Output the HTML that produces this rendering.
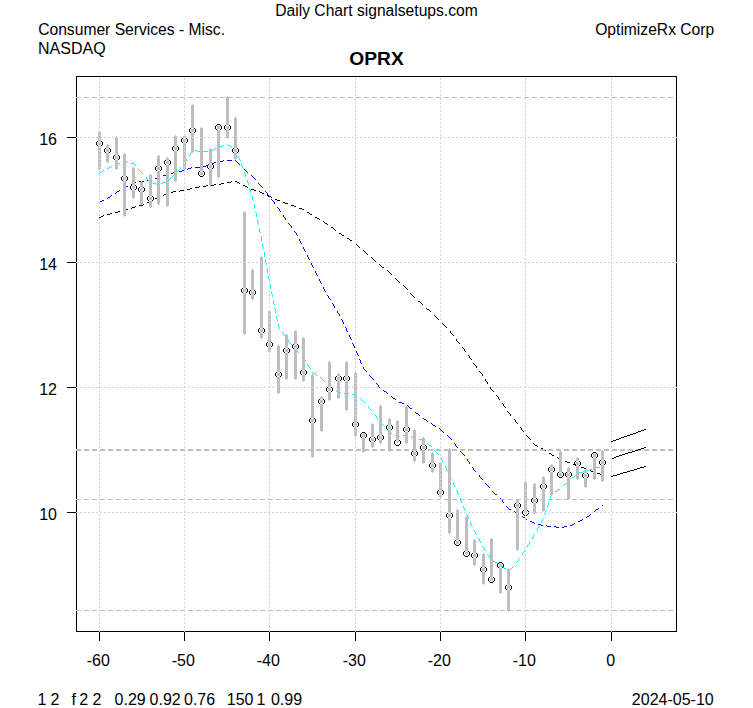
<!DOCTYPE html>
<html><head><meta charset="utf-8"><style>
html,body{margin:0;padding:0;background:#fff;width:753px;height:708px;overflow:hidden}
svg{display:block}
text{font-family:"Liberation Sans",sans-serif;fill:#000;white-space:pre}
</style></head><body>
<svg width="753" height="708" viewBox="0 0 753 708">
<g shape-rendering="crispEdges">
<rect x="0" y="0" width="753" height="708" fill="#fff"/>
<rect x="76.5" y="76.5" width="600" height="555" fill="none" stroke="#000" stroke-width="1"/>
<path d="M99 217h1v1h-1zM100 217h1v1h-1zM101 216h1v1h-1zM102 216h1v1h-1zM103 215h1v1h-1zM107 214h1v1h-1zM108 214h1v1h-1zM109 214h1v1h-1zM110 213h1v1h-1zM111 213h1v1h-1zM115 212h1v1h-1zM116 212h1v1h-1zM117 212h1v1h-1zM118 211h1v1h-1zM119 211h1v1h-1zM123 210h1v1h-1zM124 210h1v1h-1zM125 210h1v1h-1zM126 209h1v1h-1zM127 209h1v1h-1zM131 208h1v1h-1zM132 207h1v1h-1zM133 207h1v1h-1zM134 207h1v1h-1zM135 206h1v1h-1zM139 205h1v1h-1zM140 205h1v1h-1zM141 205h1v1h-1zM142 205h1v1h-1zM143 204h1v1h-1zM147 202h1v1h-1zM148 202h1v1h-1zM149 201h1v1h-1zM150 201h1v1h-1zM151 200h1v1h-1zM155 198h1v1h-1zM156 198h1v1h-1zM157 197h1v1h-1zM158 197h1v1h-1zM159 197h1v1h-1zM163 195h1v1h-1zM164 194h1v1h-1zM165 194h1v1h-1zM166 193h1v1h-1zM167 193h1v1h-1zM171 192h1v1h-1zM172 192h1v1h-1zM173 191h1v1h-1zM174 191h1v1h-1zM175 191h1v1h-1zM179 191h1v1h-1zM180 190h1v1h-1zM181 190h1v1h-1zM182 190h1v1h-1zM183 190h1v1h-1zM187 189h1v1h-1zM188 189h1v1h-1zM189 189h1v1h-1zM190 188h1v1h-1zM191 188h1v1h-1zM195 187h1v1h-1zM196 187h1v1h-1zM197 187h1v1h-1zM198 187h1v1h-1zM199 186h1v1h-1zM203 186h1v1h-1zM204 186h1v1h-1zM205 186h1v1h-1zM206 185h1v1h-1zM207 185h1v1h-1zM211 185h1v1h-1zM212 185h1v1h-1zM213 185h1v1h-1zM214 184h1v1h-1zM215 184h1v1h-1zM219 184h1v1h-1zM220 184h1v1h-1zM221 183h1v1h-1zM222 183h1v1h-1zM223 183h1v1h-1zM227 182h1v1h-1zM228 182h1v1h-1zM229 182h1v1h-1zM230 182h1v1h-1zM231 181h1v1h-1zM235 181h1v1h-1zM236 181h1v1h-1zM237 182h1v1h-1zM238 182h1v1h-1zM239 183h1v1h-1zM243 185h1v1h-1zM244 185h1v1h-1zM245 186h1v1h-1zM246 186h1v1h-1zM247 187h1v1h-1zM251 189h1v1h-1zM252 189h1v1h-1zM253 189h1v1h-1zM254 190h1v1h-1zM255 190h1v1h-1zM259 191h1v1h-1zM260 192h1v1h-1zM261 192h1v1h-1zM262 193h1v1h-1zM263 193h1v1h-1zM267 195h1v1h-1zM268 196h1v1h-1zM269 196h1v1h-1zM270 196h1v1h-1zM271 197h1v1h-1zM275 199h1v1h-1zM276 199h1v1h-1zM277 200h1v1h-1zM278 200h1v1h-1zM279 200h1v1h-1zM283 202h1v1h-1zM284 202h1v1h-1zM285 203h1v1h-1zM286 203h1v1h-1zM287 203h1v1h-1zM291 205h1v1h-1zM292 205h1v1h-1zM293 205h1v1h-1zM294 206h1v1h-1zM295 206h1v1h-1zM299 208h1v1h-1zM300 208h1v1h-1zM301 208h1v1h-1zM302 209h1v1h-1zM303 209h1v1h-1zM307 212h1v1h-1zM308 212h1v1h-1zM309 213h1v1h-1zM310 214h1v1h-1zM311 214h1v1h-1zM315 217h1v1h-1zM316 217h1v1h-1zM317 218h1v1h-1zM318 218h1v1h-1zM319 219h1v1h-1zM323 221h1v1h-1zM324 222h1v1h-1zM325 223h1v1h-1zM326 223h1v1h-1zM327 224h1v1h-1zM331 227h1v1h-1zM332 227h1v1h-1zM333 228h1v1h-1zM334 229h1v1h-1zM335 230h1v1h-1zM339 233h1v1h-1zM340 233h1v1h-1zM341 234h1v1h-1zM342 235h1v1h-1zM343 235h1v1h-1zM347 238h1v1h-1zM348 238h1v1h-1zM349 239h1v1h-1zM350 240h1v1h-1zM351 240h1v1h-1zM355 243h1v1h-1zM356 244h1v1h-1zM357 245h1v1h-1zM358 246h1v1h-1zM359 247h1v1h-1zM363 250h1v1h-1zM364 251h1v1h-1zM365 252h1v1h-1zM366 253h1v1h-1zM367 254h1v1h-1zM371 257h1v1h-1zM372 258h1v1h-1zM373 259h1v1h-1zM374 260h1v1h-1zM375 261h1v1h-1zM379 264h1v1h-1zM380 265h1v1h-1zM381 266h1v1h-1zM382 267h1v1h-1zM383 267h1v1h-1zM387 270h1v1h-1zM388 271h1v1h-1zM389 272h1v1h-1zM390 273h1v1h-1zM391 274h1v1h-1zM395 278h1v1h-1zM396 279h1v1h-1zM397 280h1v1h-1zM398 281h1v1h-1zM399 282h1v1h-1zM403 285h1v1h-1zM404 286h1v1h-1zM405 287h1v1h-1zM406 288h1v1h-1zM407 289h1v1h-1zM410 293h1v1h-1zM411 294h1v1h-1zM412 295h1v1h-1zM413 296h1v1h-1zM414 297h1v1h-1zM418 301h1v1h-1zM419 301h1v1h-1zM420 302h1v1h-1zM421 303h1v1h-1zM422 304h1v1h-1zM426 308h1v1h-1zM427 309h1v1h-1zM428 309h1v1h-1zM429 310h1v1h-1zM430 311h1v1h-1zM434 315h1v1h-1zM435 316h1v1h-1zM436 317h1v1h-1zM437 318h1v1h-1zM438 319h1v1h-1zM442 323h1v1h-1zM443 324h1v1h-1zM444 325h1v1h-1zM445 326h1v1h-1zM446 327h1v1h-1zM450 331h1v1h-1zM450 332h1v1h-1zM451 333h1v1h-1zM452 334h1v1h-1zM453 335h1v1h-1zM456 339h1v1h-1zM456 340h1v1h-1zM457 341h1v1h-1zM458 342h1v1h-1zM459 343h1v1h-1zM462 347h1v1h-1zM463 348h1v1h-1zM464 349h1v1h-1zM464 350h1v1h-1zM465 351h1v1h-1zM468 355h1v1h-1zM469 356h1v1h-1zM469 357h1v1h-1zM470 358h1v1h-1zM471 359h1v1h-1zM473 363h1v1h-1zM474 364h1v1h-1zM475 365h1v1h-1zM476 366h1v1h-1zM476 367h1v1h-1zM479 371h1v1h-1zM480 372h1v1h-1zM481 373h1v1h-1zM482 374h1v1h-1zM482 375h1v1h-1zM485 379h1v1h-1zM485 380h1v1h-1zM486 381h1v1h-1zM487 382h1v1h-1zM487 383h1v1h-1zM490 387h1v1h-1zM490 388h1v1h-1zM491 389h1v1h-1zM492 390h1v1h-1zM493 391h1v1h-1zM496 395h1v1h-1zM497 396h1v1h-1zM498 397h1v1h-1zM498 398h1v1h-1zM499 399h1v1h-1zM502 403h1v1h-1zM503 404h1v1h-1zM503 405h1v1h-1zM504 406h1v1h-1zM505 407h1v1h-1zM507 411h1v1h-1zM508 412h1v1h-1zM509 413h1v1h-1zM510 414h1v1h-1zM510 415h1v1h-1zM514 419h1v1h-1zM515 420h1v1h-1zM515 421h1v1h-1zM516 422h1v1h-1zM517 423h1v1h-1zM520 427h1v1h-1zM521 428h1v1h-1zM521 429h1v1h-1zM522 430h1v1h-1zM523 431h1v1h-1zM526 435h1v1h-1zM527 436h1v1h-1zM528 437h1v1h-1zM529 438h1v1h-1zM530 439h1v1h-1zM533 443h1v1h-1zM534 444h1v1h-1zM535 445h1v1h-1zM536 445h1v1h-1zM537 446h1v1h-1zM541 448h1v1h-1zM542 448h1v1h-1zM543 449h1v1h-1zM544 450h1v1h-1zM545 450h1v1h-1zM549 453h1v1h-1zM550 453h1v1h-1zM551 454h1v1h-1zM552 455h1v1h-1zM553 455h1v1h-1zM557 457h1v1h-1zM558 458h1v1h-1zM559 458h1v1h-1zM560 459h1v1h-1zM561 459h1v1h-1zM565 461h1v1h-1zM566 461h1v1h-1zM567 462h1v1h-1zM568 462h1v1h-1zM569 462h1v1h-1zM573 464h1v1h-1zM574 464h1v1h-1zM575 464h1v1h-1zM576 465h1v1h-1zM577 465h1v1h-1zM581 467h1v1h-1zM582 467h1v1h-1zM583 467h1v1h-1zM584 468h1v1h-1zM585 468h1v1h-1zM589 470h1v1h-1zM590 470h1v1h-1zM591 471h1v1h-1zM592 471h1v1h-1zM593 472h1v1h-1zM597 473h1v1h-1zM598 473h1v1h-1zM599 473h1v1h-1zM600 474h1v1h-1zM601 474h1v1h-1z" fill="#000"/>
<path d="M99 202h1v1h-1zM100 201h1v1h-1zM101 201h1v1h-1zM102 200h1v1h-1zM103 200h1v1h-1zM107 198h1v1h-1zM108 197h1v1h-1zM109 197h1v1h-1zM110 196h1v1h-1zM111 195h1v1h-1zM115 193h1v1h-1zM116 192h1v1h-1zM117 191h1v1h-1zM118 191h1v1h-1zM119 190h1v1h-1zM123 188h1v1h-1zM124 187h1v1h-1zM125 187h1v1h-1zM126 186h1v1h-1zM127 186h1v1h-1zM131 184h1v1h-1zM132 183h1v1h-1zM133 183h1v1h-1zM134 183h1v1h-1zM135 182h1v1h-1zM139 181h1v1h-1zM140 181h1v1h-1zM141 181h1v1h-1zM142 181h1v1h-1zM143 181h1v1h-1zM147 180h1v1h-1zM148 180h1v1h-1zM149 180h1v1h-1zM150 180h1v1h-1zM151 180h1v1h-1zM155 178h1v1h-1zM156 178h1v1h-1zM157 177h1v1h-1zM158 177h1v1h-1zM159 177h1v1h-1zM163 175h1v1h-1zM164 175h1v1h-1zM165 175h1v1h-1zM166 174h1v1h-1zM167 174h1v1h-1zM171 173h1v1h-1zM172 173h1v1h-1zM173 172h1v1h-1zM174 172h1v1h-1zM175 172h1v1h-1zM179 171h1v1h-1zM180 171h1v1h-1zM181 171h1v1h-1zM182 170h1v1h-1zM183 170h1v1h-1zM187 169h1v1h-1zM188 168h1v1h-1zM189 168h1v1h-1zM190 168h1v1h-1zM191 167h1v1h-1zM195 167h1v1h-1zM196 167h1v1h-1zM197 167h1v1h-1zM198 167h1v1h-1zM199 167h1v1h-1zM203 166h1v1h-1zM204 166h1v1h-1zM205 166h1v1h-1zM206 165h1v1h-1zM207 165h1v1h-1zM211 164h1v1h-1zM212 163h1v1h-1zM213 163h1v1h-1zM214 162h1v1h-1zM215 162h1v1h-1zM219 161h1v1h-1zM220 161h1v1h-1zM221 161h1v1h-1zM222 161h1v1h-1zM223 160h1v1h-1zM227 160h1v1h-1zM228 160h1v1h-1zM229 160h1v1h-1zM230 160h1v1h-1zM231 160h1v1h-1zM235 160h1v1h-1zM236 161h1v1h-1zM237 162h1v1h-1zM238 163h1v1h-1zM239 164h1v1h-1zM243 168h1v1h-1zM244 169h1v1h-1zM245 170h1v1h-1zM246 171h1v1h-1zM247 172h1v1h-1zM251 175h1v1h-1zM252 176h1v1h-1zM253 177h1v1h-1zM254 178h1v1h-1zM255 179h1v1h-1zM258 183h1v1h-1zM259 184h1v1h-1zM260 185h1v1h-1zM261 186h1v1h-1zM262 187h1v1h-1zM265 191h1v1h-1zM266 192h1v1h-1zM267 193h1v1h-1zM267 194h1v1h-1zM268 195h1v1h-1zM271 199h1v1h-1zM272 200h1v1h-1zM273 201h1v1h-1zM274 202h1v1h-1zM274 203h1v1h-1zM277 207h1v1h-1zM278 208h1v1h-1zM279 209h1v1h-1zM279 210h1v1h-1zM280 211h1v1h-1zM283 215h1v1h-1zM283 216h1v1h-1zM284 217h1v1h-1zM285 218h1v1h-1zM285 219h1v1h-1zM288 223h1v1h-1zM289 224h1v1h-1zM290 225h1v1h-1zM291 226h1v1h-1zM291 227h1v1h-1zM294 231h1v1h-1zM295 232h1v1h-1zM296 233h1v1h-1zM296 234h1v1h-1zM297 235h1v1h-1zM299 239h1v1h-1zM299 240h1v1h-1zM300 241h1v1h-1zM300 242h1v1h-1zM301 243h1v1h-1zM303 247h1v1h-1zM303 248h1v1h-1zM304 249h1v1h-1zM304 250h1v1h-1zM305 251h1v1h-1zM307 255h1v1h-1zM307 256h1v1h-1zM308 257h1v1h-1zM308 258h1v1h-1zM309 259h1v1h-1zM311 263h1v1h-1zM311 264h1v1h-1zM312 265h1v1h-1zM312 266h1v1h-1zM313 267h1v1h-1zM315 271h1v1h-1zM315 272h1v1h-1zM316 273h1v1h-1zM316 274h1v1h-1zM317 275h1v1h-1zM319 279h1v1h-1zM319 280h1v1h-1zM320 281h1v1h-1zM320 282h1v1h-1zM321 283h1v1h-1zM323 287h1v1h-1zM323 288h1v1h-1zM324 289h1v1h-1zM324 290h1v1h-1zM325 291h1v1h-1zM327 295h1v1h-1zM328 296h1v1h-1zM328 297h1v1h-1zM329 298h1v1h-1zM330 299h1v1h-1zM332 303h1v1h-1zM333 304h1v1h-1zM333 305h1v1h-1zM334 306h1v1h-1zM334 307h1v1h-1zM337 311h1v1h-1zM337 312h1v1h-1zM338 313h1v1h-1zM339 314h1v1h-1zM339 315h1v1h-1zM341 319h1v1h-1zM342 320h1v1h-1zM342 321h1v1h-1zM343 322h1v1h-1zM343 323h1v1h-1zM345 327h1v1h-1zM346 328h1v1h-1zM346 329h1v1h-1zM346 330h1v1h-1zM347 331h1v1h-1zM349 335h1v1h-1zM349 336h1v1h-1zM350 337h1v1h-1zM350 338h1v1h-1zM351 339h1v1h-1zM352 343h1v1h-1zM353 344h1v1h-1zM353 345h1v1h-1zM354 346h1v1h-1zM354 347h1v1h-1zM356 351h1v1h-1zM356 352h1v1h-1zM357 353h1v1h-1zM357 354h1v1h-1zM358 355h1v1h-1zM359 359h1v1h-1zM360 360h1v1h-1zM360 361h1v1h-1zM360 362h1v1h-1zM361 363h1v1h-1zM363 367h1v1h-1zM363 368h1v1h-1zM364 369h1v1h-1zM365 370h1v1h-1zM366 371h1v1h-1zM369 375h1v1h-1zM370 376h1v1h-1zM371 377h1v1h-1zM372 378h1v1h-1zM373 379h1v1h-1zM376 383h1v1h-1zM377 384h1v1h-1zM378 385h1v1h-1zM378 386h1v1h-1zM379 387h1v1h-1zM383 390h1v1h-1zM384 391h1v1h-1zM385 391h1v1h-1zM386 392h1v1h-1zM387 393h1v1h-1zM391 396h1v1h-1zM392 397h1v1h-1zM393 398h1v1h-1zM394 398h1v1h-1zM395 399h1v1h-1zM399 402h1v1h-1zM400 402h1v1h-1zM401 402h1v1h-1zM402 403h1v1h-1zM403 403h1v1h-1zM407 405h1v1h-1zM408 406h1v1h-1zM409 407h1v1h-1zM410 408h1v1h-1zM411 408h1v1h-1zM415 412h1v1h-1zM416 413h1v1h-1zM417 413h1v1h-1zM418 414h1v1h-1zM419 415h1v1h-1zM423 418h1v1h-1zM424 419h1v1h-1zM425 419h1v1h-1zM426 420h1v1h-1zM427 421h1v1h-1zM431 423h1v1h-1zM432 424h1v1h-1zM433 425h1v1h-1zM434 425h1v1h-1zM435 426h1v1h-1zM439 428h1v1h-1zM440 429h1v1h-1zM441 430h1v1h-1zM442 431h1v1h-1zM443 432h1v1h-1zM447 435h1v1h-1zM448 436h1v1h-1zM449 437h1v1h-1zM450 438h1v1h-1zM451 439h1v1h-1zM454 443h1v1h-1zM455 444h1v1h-1zM455 445h1v1h-1zM456 446h1v1h-1zM457 447h1v1h-1zM460 451h1v1h-1zM461 452h1v1h-1zM462 453h1v1h-1zM463 454h1v1h-1zM464 455h1v1h-1zM467 459h1v1h-1zM467 460h1v1h-1zM468 461h1v1h-1zM469 462h1v1h-1zM469 463h1v1h-1zM472 467h1v1h-1zM473 468h1v1h-1zM473 469h1v1h-1zM474 470h1v1h-1zM475 471h1v1h-1zM479 475h1v1h-1zM479 476h1v1h-1zM480 477h1v1h-1zM481 478h1v1h-1zM482 479h1v1h-1zM485 483h1v1h-1zM486 484h1v1h-1zM487 485h1v1h-1zM488 486h1v1h-1zM489 487h1v1h-1zM492 491h1v1h-1zM493 492h1v1h-1zM494 493h1v1h-1zM495 494h1v1h-1zM496 494h1v1h-1zM500 498h1v1h-1zM501 499h1v1h-1zM502 500h1v1h-1zM502 501h1v1h-1zM503 502h1v1h-1zM506 506h1v1h-1zM507 507h1v1h-1zM508 508h1v1h-1zM509 509h1v1h-1zM510 509h1v1h-1zM514 511h1v1h-1zM515 512h1v1h-1zM516 512h1v1h-1zM517 513h1v1h-1zM518 514h1v1h-1zM522 516h1v1h-1zM523 517h1v1h-1zM524 517h1v1h-1zM525 518h1v1h-1zM526 519h1v1h-1zM530 521h1v1h-1zM531 521h1v1h-1zM532 522h1v1h-1zM533 522h1v1h-1zM534 523h1v1h-1zM538 524h1v1h-1zM539 524h1v1h-1zM540 524h1v1h-1zM541 525h1v1h-1zM542 525h1v1h-1zM546 525h1v1h-1zM547 526h1v1h-1zM548 526h1v1h-1zM549 526h1v1h-1zM550 526h1v1h-1zM554 526h1v1h-1zM555 526h1v1h-1zM556 527h1v1h-1zM557 527h1v1h-1zM558 527h1v1h-1zM562 527h1v1h-1zM563 527h1v1h-1zM564 526h1v1h-1zM565 526h1v1h-1zM566 526h1v1h-1zM570 525h1v1h-1zM571 525h1v1h-1zM572 524h1v1h-1zM573 524h1v1h-1zM574 523h1v1h-1zM578 521h1v1h-1zM579 521h1v1h-1zM580 520h1v1h-1zM581 520h1v1h-1zM582 519h1v1h-1zM586 517h1v1h-1zM587 516h1v1h-1zM588 516h1v1h-1zM589 515h1v1h-1zM590 514h1v1h-1zM594 511h1v1h-1zM595 510h1v1h-1zM596 509h1v1h-1zM597 509h1v1h-1zM598 508h1v1h-1zM602 505h1v1h-1z" fill="#0000ff"/>
<path d="M99 173h1v1h-1zM100 172h1v1h-1zM101 172h1v1h-1zM102 171h1v1h-1zM103 170h1v1h-1zM107 168h1v1h-1zM108 168h1v1h-1zM109 167h1v1h-1zM110 167h1v1h-1zM111 166h1v1h-1zM115 164h1v1h-1zM116 164h1v1h-1zM117 164h1v1h-1zM118 163h1v1h-1zM119 163h1v1h-1zM123 161h1v1h-1zM124 161h1v1h-1zM125 161h1v1h-1zM126 161h1v1h-1zM127 162h1v1h-1zM131 163h1v1h-1zM132 163h1v1h-1zM133 163h1v1h-1zM134 164h1v1h-1zM135 165h1v1h-1zM138 169h1v1h-1zM139 170h1v1h-1zM140 171h1v1h-1zM141 172h1v1h-1zM142 173h1v1h-1zM146 177h1v1h-1zM146 178h1v1h-1zM147 179h1v1h-1zM148 180h1v1h-1zM149 181h1v1h-1zM153 183h1v1h-1zM154 183h1v1h-1zM155 183h1v1h-1zM156 184h1v1h-1zM157 184h1v1h-1zM161 183h1v1h-1zM162 183h1v1h-1zM163 182h1v1h-1zM164 182h1v1h-1zM165 182h1v1h-1zM169 179h1v1h-1zM170 178h1v1h-1zM171 177h1v1h-1zM172 176h1v1h-1zM173 175h1v1h-1zM177 171h1v1h-1zM178 170h1v1h-1zM179 169h1v1h-1zM180 168h1v1h-1zM180 167h1v1h-1zM184 163h1v1h-1zM185 162h1v1h-1zM185 161h1v1h-1zM186 160h1v1h-1zM186 159h1v1h-1zM189 155h1v1h-1zM190 154h1v1h-1zM190 153h1v1h-1zM191 152h1v1h-1zM191 151h1v1h-1zM195 150h1v1h-1zM196 150h1v1h-1zM197 151h1v1h-1zM198 151h1v1h-1zM199 151h1v1h-1zM203 151h1v1h-1zM204 151h1v1h-1zM205 151h1v1h-1zM206 151h1v1h-1zM207 151h1v1h-1zM211 150h1v1h-1zM212 150h1v1h-1zM213 149h1v1h-1zM214 149h1v1h-1zM215 148h1v1h-1zM219 147h1v1h-1zM220 146h1v1h-1zM221 146h1v1h-1zM222 146h1v1h-1zM223 145h1v1h-1zM227 144h1v1h-1zM228 145h1v1h-1zM229 145h1v1h-1zM230 146h1v1h-1zM231 146h1v1h-1zM235 148h1v1h-1zM235 149h1v1h-1zM236 150h1v1h-1zM236 151h1v1h-1zM237 152h1v1h-1zM238 156h1v1h-1zM238 157h1v1h-1zM239 158h1v1h-1zM239 159h1v1h-1zM240 160h1v1h-1zM241 164h1v1h-1zM241 165h1v1h-1zM242 166h1v1h-1zM242 167h1v1h-1zM243 168h1v1h-1zM244 172h1v1h-1zM244 173h1v1h-1zM245 174h1v1h-1zM245 175h1v1h-1zM245 176h1v1h-1zM247 180h1v1h-1zM247 181h1v1h-1zM247 182h1v1h-1zM248 183h1v1h-1zM248 184h1v1h-1zM249 188h1v1h-1zM249 189h1v1h-1zM250 190h1v1h-1zM250 191h1v1h-1zM250 192h1v1h-1zM252 196h1v1h-1zM252 197h1v1h-1zM252 198h1v1h-1zM252 199h1v1h-1zM253 200h1v1h-1zM254 204h1v1h-1zM254 205h1v1h-1zM254 206h1v1h-1zM254 207h1v1h-1zM254 208h1v1h-1zM255 212h1v1h-1zM256 213h1v1h-1zM256 214h1v1h-1zM256 215h1v1h-1zM256 216h1v1h-1zM257 220h1v1h-1zM257 221h1v1h-1zM257 222h1v1h-1zM258 223h1v1h-1zM258 224h1v1h-1zM259 228h1v1h-1zM259 229h1v1h-1zM259 230h1v1h-1zM259 231h1v1h-1zM260 232h1v1h-1zM261 236h1v1h-1zM261 237h1v1h-1zM261 238h1v1h-1zM261 239h1v1h-1zM261 240h1v1h-1zM262 244h1v1h-1zM262 245h1v1h-1zM262 246h1v1h-1zM263 247h1v1h-1zM263 248h1v1h-1zM264 252h1v1h-1zM264 253h1v1h-1zM264 254h1v1h-1zM264 255h1v1h-1zM264 256h1v1h-1zM265 260h1v1h-1zM265 261h1v1h-1zM265 262h1v1h-1zM266 263h1v1h-1zM266 264h1v1h-1zM267 268h1v1h-1zM267 269h1v1h-1zM267 270h1v1h-1zM267 271h1v1h-1zM267 272h1v1h-1zM268 276h1v1h-1zM268 277h1v1h-1zM268 278h1v1h-1zM269 279h1v1h-1zM269 280h1v1h-1zM270 284h1v1h-1zM270 285h1v1h-1zM270 286h1v1h-1zM270 287h1v1h-1zM270 288h1v1h-1zM271 292h1v1h-1zM271 293h1v1h-1zM272 294h1v1h-1zM272 295h1v1h-1zM272 296h1v1h-1zM273 300h1v1h-1zM273 301h1v1h-1zM273 302h1v1h-1zM273 303h1v1h-1zM274 304h1v1h-1zM274 308h1v1h-1zM275 309h1v1h-1zM275 310h1v1h-1zM275 311h1v1h-1zM275 312h1v1h-1zM276 316h1v1h-1zM276 317h1v1h-1zM276 318h1v1h-1zM277 319h1v1h-1zM277 320h1v1h-1zM278 324h1v1h-1zM278 325h1v1h-1zM278 326h1v1h-1zM279 327h1v1h-1zM279 328h1v1h-1zM282 332h1v1h-1zM283 333h1v1h-1zM283 334h1v1h-1zM284 335h1v1h-1zM285 336h1v1h-1zM288 340h1v1h-1zM288 341h1v1h-1zM289 342h1v1h-1zM290 343h1v1h-1zM291 344h1v1h-1zM294 348h1v1h-1zM295 349h1v1h-1zM296 350h1v1h-1zM297 351h1v1h-1zM298 352h1v1h-1zM302 356h1v1h-1zM303 357h1v1h-1zM304 358h1v1h-1zM304 359h1v1h-1zM305 360h1v1h-1zM307 364h1v1h-1zM308 365h1v1h-1zM308 366h1v1h-1zM309 367h1v1h-1zM310 368h1v1h-1zM312 372h1v1h-1zM313 373h1v1h-1zM314 373h1v1h-1zM315 374h1v1h-1zM316 375h1v1h-1zM320 377h1v1h-1zM321 378h1v1h-1zM322 379h1v1h-1zM323 380h1v1h-1zM324 381h1v1h-1zM328 385h1v1h-1zM329 386h1v1h-1zM330 387h1v1h-1zM331 387h1v1h-1zM332 388h1v1h-1zM336 391h1v1h-1zM337 391h1v1h-1zM338 392h1v1h-1zM339 392h1v1h-1zM340 392h1v1h-1zM344 393h1v1h-1zM345 393h1v1h-1zM346 393h1v1h-1zM347 393h1v1h-1zM348 393h1v1h-1zM352 394h1v1h-1zM353 394h1v1h-1zM354 394h1v1h-1zM355 394h1v1h-1zM356 395h1v1h-1zM360 398h1v1h-1zM361 399h1v1h-1zM362 400h1v1h-1zM363 401h1v1h-1zM364 402h1v1h-1zM368 406h1v1h-1zM368 407h1v1h-1zM369 408h1v1h-1zM370 409h1v1h-1zM371 410h1v1h-1zM374 414h1v1h-1zM375 415h1v1h-1zM376 416h1v1h-1zM376 417h1v1h-1zM377 418h1v1h-1zM380 422h1v1h-1zM381 423h1v1h-1zM382 424h1v1h-1zM383 425h1v1h-1zM384 426h1v1h-1zM387 430h1v1h-1zM388 431h1v1h-1zM389 432h1v1h-1zM390 433h1v1h-1zM391 433h1v1h-1zM395 435h1v1h-1zM396 436h1v1h-1zM397 436h1v1h-1zM398 436h1v1h-1zM399 436h1v1h-1zM403 435h1v1h-1zM404 435h1v1h-1zM405 435h1v1h-1zM406 435h1v1h-1zM407 435h1v1h-1zM411 436h1v1h-1zM412 437h1v1h-1zM413 437h1v1h-1zM414 437h1v1h-1zM415 437h1v1h-1zM419 439h1v1h-1zM420 439h1v1h-1zM421 439h1v1h-1zM422 440h1v1h-1zM423 440h1v1h-1zM427 443h1v1h-1zM428 444h1v1h-1zM429 445h1v1h-1zM430 445h1v1h-1zM431 446h1v1h-1zM434 450h1v1h-1zM435 451h1v1h-1zM436 452h1v1h-1zM437 453h1v1h-1zM438 454h1v1h-1zM441 458h1v1h-1zM441 459h1v1h-1zM442 460h1v1h-1zM442 461h1v1h-1zM443 462h1v1h-1zM445 466h1v1h-1zM445 467h1v1h-1zM446 468h1v1h-1zM446 469h1v1h-1zM447 470h1v1h-1zM449 474h1v1h-1zM449 475h1v1h-1zM450 476h1v1h-1zM450 477h1v1h-1zM451 478h1v1h-1zM453 482h1v1h-1zM453 483h1v1h-1zM453 484h1v1h-1zM454 485h1v1h-1zM454 486h1v1h-1zM456 490h1v1h-1zM457 491h1v1h-1zM457 492h1v1h-1zM457 493h1v1h-1zM458 494h1v1h-1zM460 498h1v1h-1zM460 499h1v1h-1zM460 500h1v1h-1zM461 501h1v1h-1zM461 502h1v1h-1zM463 506h1v1h-1zM463 507h1v1h-1zM464 508h1v1h-1zM464 509h1v1h-1zM465 510h1v1h-1zM466 514h1v1h-1zM467 515h1v1h-1zM467 516h1v1h-1zM468 517h1v1h-1zM468 518h1v1h-1zM470 522h1v1h-1zM470 523h1v1h-1zM471 524h1v1h-1zM471 525h1v1h-1zM472 526h1v1h-1zM474 530h1v1h-1zM474 531h1v1h-1zM475 532h1v1h-1zM475 533h1v1h-1zM476 534h1v1h-1zM478 538h1v1h-1zM479 539h1v1h-1zM479 540h1v1h-1zM480 541h1v1h-1zM480 542h1v1h-1zM482 546h1v1h-1zM483 547h1v1h-1zM484 548h1v1h-1zM484 549h1v1h-1zM485 550h1v1h-1zM487 554h1v1h-1zM488 555h1v1h-1zM489 556h1v1h-1zM489 557h1v1h-1zM490 558h1v1h-1zM493 561h1v1h-1zM494 561h1v1h-1zM495 562h1v1h-1zM496 562h1v1h-1zM497 563h1v1h-1zM501 565h1v1h-1zM502 566h1v1h-1zM503 567h1v1h-1zM504 568h1v1h-1zM505 568h1v1h-1zM509 570h1v1h-1zM510 569h1v1h-1zM511 568h1v1h-1zM512 567h1v1h-1zM513 566h1v1h-1zM516 562h1v1h-1zM517 561h1v1h-1zM518 560h1v1h-1zM518 559h1v1h-1zM519 558h1v1h-1zM522 554h1v1h-1zM522 553h1v1h-1zM523 552h1v1h-1zM524 551h1v1h-1zM524 550h1v1h-1zM527 546h1v1h-1zM527 545h1v1h-1zM528 544h1v1h-1zM529 543h1v1h-1zM529 542h1v1h-1zM532 538h1v1h-1zM532 537h1v1h-1zM533 536h1v1h-1zM533 535h1v1h-1zM534 534h1v1h-1zM536 530h1v1h-1zM537 529h1v1h-1zM537 528h1v1h-1zM538 527h1v1h-1zM539 526h1v1h-1zM541 522h1v1h-1zM541 521h1v1h-1zM542 520h1v1h-1zM542 519h1v1h-1zM543 518h1v1h-1zM544 514h1v1h-1zM545 513h1v1h-1zM545 512h1v1h-1zM545 511h1v1h-1zM546 510h1v1h-1zM547 506h1v1h-1zM547 505h1v1h-1zM548 504h1v1h-1zM548 503h1v1h-1zM548 502h1v1h-1zM550 498h1v1h-1zM550 497h1v1h-1zM550 496h1v1h-1zM551 495h1v1h-1zM551 494h1v1h-1zM555 491h1v1h-1zM556 491h1v1h-1zM557 490h1v1h-1zM558 489h1v1h-1zM559 489h1v1h-1zM563 485h1v1h-1zM564 484h1v1h-1zM565 484h1v1h-1zM566 483h1v1h-1zM567 482h1v1h-1zM571 478h1v1h-1zM572 477h1v1h-1zM573 477h1v1h-1zM574 476h1v1h-1zM575 475h1v1h-1zM579 472h1v1h-1zM580 472h1v1h-1zM581 472h1v1h-1zM582 472h1v1h-1zM583 471h1v1h-1zM587 470h1v1h-1zM588 470h1v1h-1zM589 470h1v1h-1zM590 469h1v1h-1zM591 469h1v1h-1zM595 468h1v1h-1zM596 467h1v1h-1zM597 467h1v1h-1zM598 467h1v1h-1zM599 467h1v1h-1z" fill="#00ffff"/>
<rect x="98" y="132" width="3" height="37" fill="#bebebe"/>
<rect x="99" y="131" width="1" height="39" fill="#bebebe"/>
<rect x="106" y="145" width="3" height="17" fill="#bebebe"/>
<rect x="107" y="144" width="1" height="19" fill="#bebebe"/>
<rect x="115" y="137" width="3" height="32" fill="#bebebe"/>
<rect x="116" y="136" width="1" height="34" fill="#bebebe"/>
<rect x="123" y="154" width="3" height="62" fill="#bebebe"/>
<rect x="124" y="153" width="1" height="64" fill="#bebebe"/>
<rect x="132" y="168" width="3" height="30" fill="#bebebe"/>
<rect x="133" y="167" width="1" height="32" fill="#bebebe"/>
<rect x="140" y="182" width="3" height="22" fill="#bebebe"/>
<rect x="141" y="181" width="1" height="24" fill="#bebebe"/>
<rect x="149" y="175" width="3" height="32" fill="#bebebe"/>
<rect x="150" y="174" width="1" height="34" fill="#bebebe"/>
<rect x="157" y="156" width="3" height="48" fill="#bebebe"/>
<rect x="158" y="155" width="1" height="50" fill="#bebebe"/>
<rect x="166" y="158" width="3" height="48" fill="#bebebe"/>
<rect x="167" y="157" width="1" height="50" fill="#bebebe"/>
<rect x="174" y="136" width="3" height="45" fill="#bebebe"/>
<rect x="175" y="135" width="1" height="47" fill="#bebebe"/>
<rect x="183" y="136" width="3" height="33" fill="#bebebe"/>
<rect x="184" y="135" width="1" height="35" fill="#bebebe"/>
<rect x="191" y="105" width="3" height="47" fill="#bebebe"/>
<rect x="192" y="104" width="1" height="49" fill="#bebebe"/>
<rect x="200" y="128" width="3" height="47" fill="#bebebe"/>
<rect x="201" y="127" width="1" height="49" fill="#bebebe"/>
<rect x="209" y="149" width="3" height="36" fill="#bebebe"/>
<rect x="210" y="148" width="1" height="38" fill="#bebebe"/>
<rect x="217" y="126" width="3" height="51" fill="#bebebe"/>
<rect x="218" y="125" width="1" height="53" fill="#bebebe"/>
<rect x="226" y="97" width="3" height="41" fill="#bebebe"/>
<rect x="227" y="96" width="1" height="43" fill="#bebebe"/>
<rect x="234" y="118" width="3" height="41" fill="#bebebe"/>
<rect x="235" y="117" width="1" height="43" fill="#bebebe"/>
<rect x="243" y="212" width="3" height="122" fill="#bebebe"/>
<rect x="244" y="211" width="1" height="124" fill="#bebebe"/>
<rect x="251" y="270" width="3" height="29" fill="#bebebe"/>
<rect x="252" y="269" width="1" height="31" fill="#bebebe"/>
<rect x="260" y="257" width="3" height="81" fill="#bebebe"/>
<rect x="261" y="256" width="1" height="83" fill="#bebebe"/>
<rect x="268" y="311" width="3" height="41" fill="#bebebe"/>
<rect x="269" y="310" width="1" height="43" fill="#bebebe"/>
<rect x="277" y="346" width="3" height="47" fill="#bebebe"/>
<rect x="278" y="345" width="1" height="49" fill="#bebebe"/>
<rect x="285" y="335" width="3" height="44" fill="#bebebe"/>
<rect x="286" y="334" width="1" height="46" fill="#bebebe"/>
<rect x="294" y="331" width="3" height="48" fill="#bebebe"/>
<rect x="295" y="330" width="1" height="50" fill="#bebebe"/>
<rect x="302" y="338" width="3" height="43" fill="#bebebe"/>
<rect x="303" y="337" width="1" height="45" fill="#bebebe"/>
<rect x="311" y="375" width="3" height="82" fill="#bebebe"/>
<rect x="312" y="374" width="1" height="84" fill="#bebebe"/>
<rect x="320" y="397" width="3" height="34" fill="#bebebe"/>
<rect x="321" y="396" width="1" height="36" fill="#bebebe"/>
<rect x="328" y="362" width="3" height="38" fill="#bebebe"/>
<rect x="329" y="361" width="1" height="40" fill="#bebebe"/>
<rect x="337" y="374" width="3" height="24" fill="#bebebe"/>
<rect x="338" y="373" width="1" height="26" fill="#bebebe"/>
<rect x="345" y="362" width="3" height="48" fill="#bebebe"/>
<rect x="346" y="361" width="1" height="50" fill="#bebebe"/>
<rect x="354" y="373" width="3" height="63" fill="#bebebe"/>
<rect x="355" y="372" width="1" height="65" fill="#bebebe"/>
<rect x="362" y="433" width="3" height="19" fill="#bebebe"/>
<rect x="363" y="432" width="1" height="21" fill="#bebebe"/>
<rect x="371" y="424" width="3" height="23" fill="#bebebe"/>
<rect x="372" y="423" width="1" height="25" fill="#bebebe"/>
<rect x="379" y="406" width="3" height="37" fill="#bebebe"/>
<rect x="380" y="405" width="1" height="39" fill="#bebebe"/>
<rect x="388" y="419" width="3" height="32" fill="#bebebe"/>
<rect x="389" y="418" width="1" height="34" fill="#bebebe"/>
<rect x="396" y="421" width="3" height="21" fill="#bebebe"/>
<rect x="397" y="420" width="1" height="23" fill="#bebebe"/>
<rect x="405" y="407" width="3" height="36" fill="#bebebe"/>
<rect x="406" y="406" width="1" height="38" fill="#bebebe"/>
<rect x="413" y="430" width="3" height="31" fill="#bebebe"/>
<rect x="414" y="429" width="1" height="33" fill="#bebebe"/>
<rect x="422" y="438" width="3" height="25" fill="#bebebe"/>
<rect x="423" y="437" width="1" height="27" fill="#bebebe"/>
<rect x="431" y="453" width="3" height="19" fill="#bebebe"/>
<rect x="432" y="452" width="1" height="21" fill="#bebebe"/>
<rect x="439" y="463" width="3" height="34" fill="#bebebe"/>
<rect x="440" y="462" width="1" height="36" fill="#bebebe"/>
<rect x="448" y="449" width="3" height="84" fill="#bebebe"/>
<rect x="449" y="448" width="1" height="86" fill="#bebebe"/>
<rect x="456" y="510" width="3" height="34" fill="#bebebe"/>
<rect x="457" y="509" width="1" height="36" fill="#bebebe"/>
<rect x="465" y="517" width="3" height="37" fill="#bebebe"/>
<rect x="466" y="516" width="1" height="39" fill="#bebebe"/>
<rect x="473" y="540" width="3" height="25" fill="#bebebe"/>
<rect x="474" y="539" width="1" height="27" fill="#bebebe"/>
<rect x="482" y="554" width="3" height="30" fill="#bebebe"/>
<rect x="483" y="553" width="1" height="32" fill="#bebebe"/>
<rect x="490" y="539" width="3" height="43" fill="#bebebe"/>
<rect x="491" y="538" width="1" height="45" fill="#bebebe"/>
<rect x="499" y="564" width="3" height="29" fill="#bebebe"/>
<rect x="500" y="563" width="1" height="31" fill="#bebebe"/>
<rect x="507" y="569" width="3" height="42" fill="#bebebe"/>
<rect x="508" y="568" width="1" height="44" fill="#bebebe"/>
<rect x="516" y="500" width="3" height="50" fill="#bebebe"/>
<rect x="517" y="499" width="1" height="52" fill="#bebebe"/>
<rect x="524" y="482" width="3" height="31" fill="#bebebe"/>
<rect x="525" y="481" width="1" height="33" fill="#bebebe"/>
<rect x="533" y="484" width="3" height="29" fill="#bebebe"/>
<rect x="534" y="483" width="1" height="31" fill="#bebebe"/>
<rect x="542" y="477" width="3" height="34" fill="#bebebe"/>
<rect x="543" y="476" width="1" height="36" fill="#bebebe"/>
<rect x="550" y="465" width="3" height="30" fill="#bebebe"/>
<rect x="551" y="464" width="1" height="32" fill="#bebebe"/>
<rect x="559" y="452" width="3" height="24" fill="#bebebe"/>
<rect x="560" y="451" width="1" height="26" fill="#bebebe"/>
<rect x="567" y="468" width="3" height="31" fill="#bebebe"/>
<rect x="568" y="467" width="1" height="33" fill="#bebebe"/>
<rect x="576" y="458" width="3" height="21" fill="#bebebe"/>
<rect x="577" y="457" width="1" height="23" fill="#bebebe"/>
<rect x="584" y="470" width="3" height="17" fill="#bebebe"/>
<rect x="585" y="469" width="1" height="19" fill="#bebebe"/>
<rect x="593" y="454" width="3" height="25" fill="#bebebe"/>
<rect x="594" y="453" width="1" height="27" fill="#bebebe"/>
<rect x="601" y="451" width="3" height="30" fill="#bebebe"/>
<rect x="602" y="450" width="1" height="32" fill="#bebebe"/>
<path d="M76 97.5 H676" stroke="#bebebe" stroke-width="1" stroke-dasharray="5 3" fill="none"/>
<path d="M76 450.0 H676" stroke="#bebebe" stroke-width="2" stroke-dasharray="5 3" fill="none"/>
<path d="M76 499.5 H676" stroke="#bebebe" stroke-width="1" stroke-dasharray="5 3" fill="none"/>
<path d="M76 610.5 H676" stroke="#bebebe" stroke-width="1" stroke-dasharray="5 3" fill="none"/>
<rect x="98" y="141" width="1" height="1" fill="#ececec"/>
<rect x="98" y="145" width="1" height="1" fill="#ececec"/>
<rect x="99" y="141" width="1" height="1" fill="#ececec"/>
<rect x="99" y="145" width="1" height="1" fill="#ececec"/>
<rect x="100" y="141" width="1" height="1" fill="#ececec"/>
<rect x="100" y="145" width="1" height="1" fill="#ececec"/>
<rect x="97" y="141" width="1" height="1" fill="#000"/>
<rect x="97" y="145" width="1" height="1" fill="#000"/>
<rect x="101" y="141" width="1" height="1" fill="#000"/>
<rect x="101" y="145" width="1" height="1" fill="#000"/>
<rect x="96" y="142" width="1" height="1" fill="#000"/>
<rect x="96" y="143" width="1" height="1" fill="#000"/>
<rect x="96" y="144" width="1" height="1" fill="#000"/>
<rect x="102" y="142" width="1" height="1" fill="#000"/>
<rect x="102" y="143" width="1" height="1" fill="#000"/>
<rect x="102" y="144" width="1" height="1" fill="#000"/>
<rect x="106" y="148" width="1" height="1" fill="#ececec"/>
<rect x="106" y="152" width="1" height="1" fill="#ececec"/>
<rect x="107" y="148" width="1" height="1" fill="#ececec"/>
<rect x="107" y="152" width="1" height="1" fill="#ececec"/>
<rect x="108" y="148" width="1" height="1" fill="#ececec"/>
<rect x="108" y="152" width="1" height="1" fill="#ececec"/>
<rect x="105" y="148" width="1" height="1" fill="#000"/>
<rect x="105" y="152" width="1" height="1" fill="#000"/>
<rect x="109" y="148" width="1" height="1" fill="#000"/>
<rect x="109" y="152" width="1" height="1" fill="#000"/>
<rect x="104" y="149" width="1" height="1" fill="#000"/>
<rect x="104" y="150" width="1" height="1" fill="#000"/>
<rect x="104" y="151" width="1" height="1" fill="#000"/>
<rect x="110" y="149" width="1" height="1" fill="#000"/>
<rect x="110" y="150" width="1" height="1" fill="#000"/>
<rect x="110" y="151" width="1" height="1" fill="#000"/>
<rect x="115" y="155" width="1" height="1" fill="#ececec"/>
<rect x="115" y="159" width="1" height="1" fill="#ececec"/>
<rect x="116" y="155" width="1" height="1" fill="#ececec"/>
<rect x="116" y="159" width="1" height="1" fill="#ececec"/>
<rect x="117" y="155" width="1" height="1" fill="#ececec"/>
<rect x="117" y="159" width="1" height="1" fill="#ececec"/>
<rect x="114" y="155" width="1" height="1" fill="#000"/>
<rect x="114" y="159" width="1" height="1" fill="#000"/>
<rect x="118" y="155" width="1" height="1" fill="#000"/>
<rect x="118" y="159" width="1" height="1" fill="#000"/>
<rect x="113" y="156" width="1" height="1" fill="#000"/>
<rect x="113" y="157" width="1" height="1" fill="#000"/>
<rect x="113" y="158" width="1" height="1" fill="#000"/>
<rect x="119" y="156" width="1" height="1" fill="#000"/>
<rect x="119" y="157" width="1" height="1" fill="#000"/>
<rect x="119" y="158" width="1" height="1" fill="#000"/>
<rect x="123" y="176" width="1" height="1" fill="#ececec"/>
<rect x="123" y="180" width="1" height="1" fill="#ececec"/>
<rect x="124" y="176" width="1" height="1" fill="#ececec"/>
<rect x="124" y="180" width="1" height="1" fill="#ececec"/>
<rect x="125" y="176" width="1" height="1" fill="#ececec"/>
<rect x="125" y="180" width="1" height="1" fill="#ececec"/>
<rect x="122" y="176" width="1" height="1" fill="#000"/>
<rect x="122" y="180" width="1" height="1" fill="#000"/>
<rect x="126" y="176" width="1" height="1" fill="#000"/>
<rect x="126" y="180" width="1" height="1" fill="#000"/>
<rect x="121" y="177" width="1" height="1" fill="#000"/>
<rect x="121" y="178" width="1" height="1" fill="#000"/>
<rect x="121" y="179" width="1" height="1" fill="#000"/>
<rect x="127" y="177" width="1" height="1" fill="#000"/>
<rect x="127" y="178" width="1" height="1" fill="#000"/>
<rect x="127" y="179" width="1" height="1" fill="#000"/>
<rect x="132" y="185" width="1" height="1" fill="#ececec"/>
<rect x="132" y="189" width="1" height="1" fill="#ececec"/>
<rect x="133" y="185" width="1" height="1" fill="#ececec"/>
<rect x="133" y="189" width="1" height="1" fill="#ececec"/>
<rect x="134" y="185" width="1" height="1" fill="#ececec"/>
<rect x="134" y="189" width="1" height="1" fill="#ececec"/>
<rect x="131" y="185" width="1" height="1" fill="#000"/>
<rect x="131" y="189" width="1" height="1" fill="#000"/>
<rect x="135" y="185" width="1" height="1" fill="#000"/>
<rect x="135" y="189" width="1" height="1" fill="#000"/>
<rect x="130" y="186" width="1" height="1" fill="#000"/>
<rect x="130" y="187" width="1" height="1" fill="#000"/>
<rect x="130" y="188" width="1" height="1" fill="#000"/>
<rect x="136" y="186" width="1" height="1" fill="#000"/>
<rect x="136" y="187" width="1" height="1" fill="#000"/>
<rect x="136" y="188" width="1" height="1" fill="#000"/>
<rect x="140" y="187" width="1" height="1" fill="#ececec"/>
<rect x="140" y="191" width="1" height="1" fill="#ececec"/>
<rect x="141" y="187" width="1" height="1" fill="#ececec"/>
<rect x="141" y="191" width="1" height="1" fill="#ececec"/>
<rect x="142" y="187" width="1" height="1" fill="#ececec"/>
<rect x="142" y="191" width="1" height="1" fill="#ececec"/>
<rect x="139" y="187" width="1" height="1" fill="#000"/>
<rect x="139" y="191" width="1" height="1" fill="#000"/>
<rect x="143" y="187" width="1" height="1" fill="#000"/>
<rect x="143" y="191" width="1" height="1" fill="#000"/>
<rect x="138" y="188" width="1" height="1" fill="#000"/>
<rect x="138" y="189" width="1" height="1" fill="#000"/>
<rect x="138" y="190" width="1" height="1" fill="#000"/>
<rect x="144" y="188" width="1" height="1" fill="#000"/>
<rect x="144" y="189" width="1" height="1" fill="#000"/>
<rect x="144" y="190" width="1" height="1" fill="#000"/>
<rect x="149" y="196" width="1" height="1" fill="#ececec"/>
<rect x="149" y="200" width="1" height="1" fill="#ececec"/>
<rect x="150" y="196" width="1" height="1" fill="#ececec"/>
<rect x="150" y="200" width="1" height="1" fill="#ececec"/>
<rect x="151" y="196" width="1" height="1" fill="#ececec"/>
<rect x="151" y="200" width="1" height="1" fill="#ececec"/>
<rect x="148" y="196" width="1" height="1" fill="#000"/>
<rect x="148" y="200" width="1" height="1" fill="#000"/>
<rect x="152" y="196" width="1" height="1" fill="#000"/>
<rect x="152" y="200" width="1" height="1" fill="#000"/>
<rect x="147" y="197" width="1" height="1" fill="#000"/>
<rect x="147" y="198" width="1" height="1" fill="#000"/>
<rect x="147" y="199" width="1" height="1" fill="#000"/>
<rect x="153" y="197" width="1" height="1" fill="#000"/>
<rect x="153" y="198" width="1" height="1" fill="#000"/>
<rect x="153" y="199" width="1" height="1" fill="#000"/>
<rect x="157" y="166" width="1" height="1" fill="#ececec"/>
<rect x="157" y="170" width="1" height="1" fill="#ececec"/>
<rect x="158" y="166" width="1" height="1" fill="#ececec"/>
<rect x="158" y="170" width="1" height="1" fill="#ececec"/>
<rect x="159" y="166" width="1" height="1" fill="#ececec"/>
<rect x="159" y="170" width="1" height="1" fill="#ececec"/>
<rect x="156" y="166" width="1" height="1" fill="#000"/>
<rect x="156" y="170" width="1" height="1" fill="#000"/>
<rect x="160" y="166" width="1" height="1" fill="#000"/>
<rect x="160" y="170" width="1" height="1" fill="#000"/>
<rect x="155" y="167" width="1" height="1" fill="#000"/>
<rect x="155" y="168" width="1" height="1" fill="#000"/>
<rect x="155" y="169" width="1" height="1" fill="#000"/>
<rect x="161" y="167" width="1" height="1" fill="#000"/>
<rect x="161" y="168" width="1" height="1" fill="#000"/>
<rect x="161" y="169" width="1" height="1" fill="#000"/>
<rect x="166" y="160" width="1" height="1" fill="#ececec"/>
<rect x="166" y="164" width="1" height="1" fill="#ececec"/>
<rect x="167" y="160" width="1" height="1" fill="#ececec"/>
<rect x="167" y="164" width="1" height="1" fill="#ececec"/>
<rect x="168" y="160" width="1" height="1" fill="#ececec"/>
<rect x="168" y="164" width="1" height="1" fill="#ececec"/>
<rect x="165" y="160" width="1" height="1" fill="#000"/>
<rect x="165" y="164" width="1" height="1" fill="#000"/>
<rect x="169" y="160" width="1" height="1" fill="#000"/>
<rect x="169" y="164" width="1" height="1" fill="#000"/>
<rect x="164" y="161" width="1" height="1" fill="#000"/>
<rect x="164" y="162" width="1" height="1" fill="#000"/>
<rect x="164" y="163" width="1" height="1" fill="#000"/>
<rect x="170" y="161" width="1" height="1" fill="#000"/>
<rect x="170" y="162" width="1" height="1" fill="#000"/>
<rect x="170" y="163" width="1" height="1" fill="#000"/>
<rect x="174" y="146" width="1" height="1" fill="#ececec"/>
<rect x="174" y="150" width="1" height="1" fill="#ececec"/>
<rect x="175" y="146" width="1" height="1" fill="#ececec"/>
<rect x="175" y="150" width="1" height="1" fill="#ececec"/>
<rect x="176" y="146" width="1" height="1" fill="#ececec"/>
<rect x="176" y="150" width="1" height="1" fill="#ececec"/>
<rect x="173" y="146" width="1" height="1" fill="#000"/>
<rect x="173" y="150" width="1" height="1" fill="#000"/>
<rect x="177" y="146" width="1" height="1" fill="#000"/>
<rect x="177" y="150" width="1" height="1" fill="#000"/>
<rect x="172" y="147" width="1" height="1" fill="#000"/>
<rect x="172" y="148" width="1" height="1" fill="#000"/>
<rect x="172" y="149" width="1" height="1" fill="#000"/>
<rect x="178" y="147" width="1" height="1" fill="#000"/>
<rect x="178" y="148" width="1" height="1" fill="#000"/>
<rect x="178" y="149" width="1" height="1" fill="#000"/>
<rect x="183" y="138" width="1" height="1" fill="#ececec"/>
<rect x="183" y="142" width="1" height="1" fill="#ececec"/>
<rect x="184" y="138" width="1" height="1" fill="#ececec"/>
<rect x="184" y="142" width="1" height="1" fill="#ececec"/>
<rect x="185" y="138" width="1" height="1" fill="#ececec"/>
<rect x="185" y="142" width="1" height="1" fill="#ececec"/>
<rect x="182" y="138" width="1" height="1" fill="#000"/>
<rect x="182" y="142" width="1" height="1" fill="#000"/>
<rect x="186" y="138" width="1" height="1" fill="#000"/>
<rect x="186" y="142" width="1" height="1" fill="#000"/>
<rect x="181" y="139" width="1" height="1" fill="#000"/>
<rect x="181" y="140" width="1" height="1" fill="#000"/>
<rect x="181" y="141" width="1" height="1" fill="#000"/>
<rect x="187" y="139" width="1" height="1" fill="#000"/>
<rect x="187" y="140" width="1" height="1" fill="#000"/>
<rect x="187" y="141" width="1" height="1" fill="#000"/>
<rect x="191" y="128" width="1" height="1" fill="#ececec"/>
<rect x="191" y="132" width="1" height="1" fill="#ececec"/>
<rect x="192" y="128" width="1" height="1" fill="#ececec"/>
<rect x="192" y="132" width="1" height="1" fill="#ececec"/>
<rect x="193" y="128" width="1" height="1" fill="#ececec"/>
<rect x="193" y="132" width="1" height="1" fill="#ececec"/>
<rect x="190" y="128" width="1" height="1" fill="#000"/>
<rect x="190" y="132" width="1" height="1" fill="#000"/>
<rect x="194" y="128" width="1" height="1" fill="#000"/>
<rect x="194" y="132" width="1" height="1" fill="#000"/>
<rect x="189" y="129" width="1" height="1" fill="#000"/>
<rect x="189" y="130" width="1" height="1" fill="#000"/>
<rect x="189" y="131" width="1" height="1" fill="#000"/>
<rect x="195" y="129" width="1" height="1" fill="#000"/>
<rect x="195" y="130" width="1" height="1" fill="#000"/>
<rect x="195" y="131" width="1" height="1" fill="#000"/>
<rect x="200" y="176" width="1" height="1" fill="#000"/>
<rect x="200" y="171" width="1" height="1" fill="#ececec"/>
<rect x="200" y="175" width="1" height="1" fill="#ececec"/>
<rect x="201" y="176" width="1" height="1" fill="#000"/>
<rect x="201" y="171" width="1" height="1" fill="#ececec"/>
<rect x="201" y="175" width="1" height="1" fill="#ececec"/>
<rect x="202" y="176" width="1" height="1" fill="#000"/>
<rect x="202" y="171" width="1" height="1" fill="#ececec"/>
<rect x="202" y="175" width="1" height="1" fill="#ececec"/>
<rect x="199" y="171" width="1" height="1" fill="#000"/>
<rect x="199" y="175" width="1" height="1" fill="#000"/>
<rect x="203" y="171" width="1" height="1" fill="#000"/>
<rect x="203" y="175" width="1" height="1" fill="#000"/>
<rect x="198" y="172" width="1" height="1" fill="#000"/>
<rect x="198" y="173" width="1" height="1" fill="#000"/>
<rect x="198" y="174" width="1" height="1" fill="#000"/>
<rect x="204" y="172" width="1" height="1" fill="#000"/>
<rect x="204" y="173" width="1" height="1" fill="#000"/>
<rect x="204" y="174" width="1" height="1" fill="#000"/>
<rect x="209" y="164" width="1" height="1" fill="#ececec"/>
<rect x="209" y="168" width="1" height="1" fill="#ececec"/>
<rect x="210" y="164" width="1" height="1" fill="#ececec"/>
<rect x="210" y="168" width="1" height="1" fill="#ececec"/>
<rect x="211" y="164" width="1" height="1" fill="#ececec"/>
<rect x="211" y="168" width="1" height="1" fill="#ececec"/>
<rect x="208" y="164" width="1" height="1" fill="#000"/>
<rect x="208" y="168" width="1" height="1" fill="#000"/>
<rect x="212" y="164" width="1" height="1" fill="#000"/>
<rect x="212" y="168" width="1" height="1" fill="#000"/>
<rect x="207" y="165" width="1" height="1" fill="#000"/>
<rect x="207" y="166" width="1" height="1" fill="#000"/>
<rect x="207" y="167" width="1" height="1" fill="#000"/>
<rect x="213" y="165" width="1" height="1" fill="#000"/>
<rect x="213" y="166" width="1" height="1" fill="#000"/>
<rect x="213" y="167" width="1" height="1" fill="#000"/>
<rect x="217" y="124" width="1" height="1" fill="#000"/>
<rect x="217" y="125" width="1" height="1" fill="#ececec"/>
<rect x="217" y="129" width="1" height="1" fill="#ececec"/>
<rect x="218" y="124" width="1" height="1" fill="#000"/>
<rect x="218" y="125" width="1" height="1" fill="#ececec"/>
<rect x="218" y="129" width="1" height="1" fill="#ececec"/>
<rect x="219" y="124" width="1" height="1" fill="#000"/>
<rect x="219" y="125" width="1" height="1" fill="#ececec"/>
<rect x="219" y="129" width="1" height="1" fill="#ececec"/>
<rect x="216" y="125" width="1" height="1" fill="#000"/>
<rect x="216" y="129" width="1" height="1" fill="#000"/>
<rect x="220" y="125" width="1" height="1" fill="#000"/>
<rect x="220" y="129" width="1" height="1" fill="#000"/>
<rect x="215" y="126" width="1" height="1" fill="#000"/>
<rect x="215" y="127" width="1" height="1" fill="#000"/>
<rect x="215" y="128" width="1" height="1" fill="#000"/>
<rect x="221" y="126" width="1" height="1" fill="#000"/>
<rect x="221" y="127" width="1" height="1" fill="#000"/>
<rect x="221" y="128" width="1" height="1" fill="#000"/>
<rect x="226" y="125" width="1" height="1" fill="#ececec"/>
<rect x="226" y="129" width="1" height="1" fill="#ececec"/>
<rect x="227" y="125" width="1" height="1" fill="#ececec"/>
<rect x="227" y="129" width="1" height="1" fill="#ececec"/>
<rect x="228" y="125" width="1" height="1" fill="#ececec"/>
<rect x="228" y="129" width="1" height="1" fill="#ececec"/>
<rect x="225" y="125" width="1" height="1" fill="#000"/>
<rect x="225" y="129" width="1" height="1" fill="#000"/>
<rect x="229" y="125" width="1" height="1" fill="#000"/>
<rect x="229" y="129" width="1" height="1" fill="#000"/>
<rect x="224" y="126" width="1" height="1" fill="#000"/>
<rect x="224" y="127" width="1" height="1" fill="#000"/>
<rect x="224" y="128" width="1" height="1" fill="#000"/>
<rect x="230" y="126" width="1" height="1" fill="#000"/>
<rect x="230" y="127" width="1" height="1" fill="#000"/>
<rect x="230" y="128" width="1" height="1" fill="#000"/>
<rect x="234" y="148" width="1" height="1" fill="#ececec"/>
<rect x="234" y="152" width="1" height="1" fill="#ececec"/>
<rect x="235" y="148" width="1" height="1" fill="#ececec"/>
<rect x="235" y="152" width="1" height="1" fill="#ececec"/>
<rect x="236" y="148" width="1" height="1" fill="#ececec"/>
<rect x="236" y="152" width="1" height="1" fill="#ececec"/>
<rect x="233" y="148" width="1" height="1" fill="#000"/>
<rect x="233" y="152" width="1" height="1" fill="#000"/>
<rect x="237" y="148" width="1" height="1" fill="#000"/>
<rect x="237" y="152" width="1" height="1" fill="#000"/>
<rect x="232" y="149" width="1" height="1" fill="#000"/>
<rect x="232" y="150" width="1" height="1" fill="#000"/>
<rect x="232" y="151" width="1" height="1" fill="#000"/>
<rect x="238" y="149" width="1" height="1" fill="#000"/>
<rect x="238" y="150" width="1" height="1" fill="#000"/>
<rect x="238" y="151" width="1" height="1" fill="#000"/>
<rect x="243" y="288" width="1" height="1" fill="#ececec"/>
<rect x="243" y="292" width="1" height="1" fill="#ececec"/>
<rect x="244" y="288" width="1" height="1" fill="#ececec"/>
<rect x="244" y="292" width="1" height="1" fill="#ececec"/>
<rect x="245" y="288" width="1" height="1" fill="#ececec"/>
<rect x="245" y="292" width="1" height="1" fill="#ececec"/>
<rect x="242" y="288" width="1" height="1" fill="#000"/>
<rect x="242" y="292" width="1" height="1" fill="#000"/>
<rect x="246" y="288" width="1" height="1" fill="#000"/>
<rect x="246" y="292" width="1" height="1" fill="#000"/>
<rect x="241" y="289" width="1" height="1" fill="#000"/>
<rect x="241" y="290" width="1" height="1" fill="#000"/>
<rect x="241" y="291" width="1" height="1" fill="#000"/>
<rect x="247" y="289" width="1" height="1" fill="#000"/>
<rect x="247" y="290" width="1" height="1" fill="#000"/>
<rect x="247" y="291" width="1" height="1" fill="#000"/>
<rect x="251" y="290" width="1" height="1" fill="#ececec"/>
<rect x="251" y="294" width="1" height="1" fill="#ececec"/>
<rect x="252" y="290" width="1" height="1" fill="#ececec"/>
<rect x="252" y="294" width="1" height="1" fill="#ececec"/>
<rect x="253" y="290" width="1" height="1" fill="#ececec"/>
<rect x="253" y="294" width="1" height="1" fill="#ececec"/>
<rect x="250" y="290" width="1" height="1" fill="#000"/>
<rect x="250" y="294" width="1" height="1" fill="#000"/>
<rect x="254" y="290" width="1" height="1" fill="#000"/>
<rect x="254" y="294" width="1" height="1" fill="#000"/>
<rect x="249" y="291" width="1" height="1" fill="#000"/>
<rect x="249" y="292" width="1" height="1" fill="#000"/>
<rect x="249" y="293" width="1" height="1" fill="#000"/>
<rect x="255" y="291" width="1" height="1" fill="#000"/>
<rect x="255" y="292" width="1" height="1" fill="#000"/>
<rect x="255" y="293" width="1" height="1" fill="#000"/>
<rect x="260" y="328" width="1" height="1" fill="#ececec"/>
<rect x="260" y="332" width="1" height="1" fill="#ececec"/>
<rect x="261" y="328" width="1" height="1" fill="#ececec"/>
<rect x="261" y="332" width="1" height="1" fill="#ececec"/>
<rect x="262" y="328" width="1" height="1" fill="#ececec"/>
<rect x="262" y="332" width="1" height="1" fill="#ececec"/>
<rect x="259" y="328" width="1" height="1" fill="#000"/>
<rect x="259" y="332" width="1" height="1" fill="#000"/>
<rect x="263" y="328" width="1" height="1" fill="#000"/>
<rect x="263" y="332" width="1" height="1" fill="#000"/>
<rect x="258" y="329" width="1" height="1" fill="#000"/>
<rect x="258" y="330" width="1" height="1" fill="#000"/>
<rect x="258" y="331" width="1" height="1" fill="#000"/>
<rect x="264" y="329" width="1" height="1" fill="#000"/>
<rect x="264" y="330" width="1" height="1" fill="#000"/>
<rect x="264" y="331" width="1" height="1" fill="#000"/>
<rect x="268" y="342" width="1" height="1" fill="#ececec"/>
<rect x="268" y="346" width="1" height="1" fill="#ececec"/>
<rect x="269" y="342" width="1" height="1" fill="#ececec"/>
<rect x="269" y="346" width="1" height="1" fill="#ececec"/>
<rect x="270" y="342" width="1" height="1" fill="#ececec"/>
<rect x="270" y="346" width="1" height="1" fill="#ececec"/>
<rect x="267" y="342" width="1" height="1" fill="#000"/>
<rect x="267" y="346" width="1" height="1" fill="#000"/>
<rect x="271" y="342" width="1" height="1" fill="#000"/>
<rect x="271" y="346" width="1" height="1" fill="#000"/>
<rect x="266" y="343" width="1" height="1" fill="#000"/>
<rect x="266" y="344" width="1" height="1" fill="#000"/>
<rect x="266" y="345" width="1" height="1" fill="#000"/>
<rect x="272" y="343" width="1" height="1" fill="#000"/>
<rect x="272" y="344" width="1" height="1" fill="#000"/>
<rect x="272" y="345" width="1" height="1" fill="#000"/>
<rect x="277" y="372" width="1" height="1" fill="#ececec"/>
<rect x="277" y="376" width="1" height="1" fill="#ececec"/>
<rect x="278" y="372" width="1" height="1" fill="#ececec"/>
<rect x="278" y="376" width="1" height="1" fill="#ececec"/>
<rect x="279" y="372" width="1" height="1" fill="#ececec"/>
<rect x="279" y="376" width="1" height="1" fill="#ececec"/>
<rect x="276" y="372" width="1" height="1" fill="#000"/>
<rect x="276" y="376" width="1" height="1" fill="#000"/>
<rect x="280" y="372" width="1" height="1" fill="#000"/>
<rect x="280" y="376" width="1" height="1" fill="#000"/>
<rect x="275" y="373" width="1" height="1" fill="#000"/>
<rect x="275" y="374" width="1" height="1" fill="#000"/>
<rect x="275" y="375" width="1" height="1" fill="#000"/>
<rect x="281" y="373" width="1" height="1" fill="#000"/>
<rect x="281" y="374" width="1" height="1" fill="#000"/>
<rect x="281" y="375" width="1" height="1" fill="#000"/>
<rect x="285" y="348" width="1" height="1" fill="#ececec"/>
<rect x="285" y="352" width="1" height="1" fill="#ececec"/>
<rect x="286" y="348" width="1" height="1" fill="#ececec"/>
<rect x="286" y="352" width="1" height="1" fill="#ececec"/>
<rect x="287" y="348" width="1" height="1" fill="#ececec"/>
<rect x="287" y="352" width="1" height="1" fill="#ececec"/>
<rect x="284" y="348" width="1" height="1" fill="#000"/>
<rect x="284" y="352" width="1" height="1" fill="#000"/>
<rect x="288" y="348" width="1" height="1" fill="#000"/>
<rect x="288" y="352" width="1" height="1" fill="#000"/>
<rect x="283" y="349" width="1" height="1" fill="#000"/>
<rect x="283" y="350" width="1" height="1" fill="#000"/>
<rect x="283" y="351" width="1" height="1" fill="#000"/>
<rect x="289" y="349" width="1" height="1" fill="#000"/>
<rect x="289" y="350" width="1" height="1" fill="#000"/>
<rect x="289" y="351" width="1" height="1" fill="#000"/>
<rect x="294" y="344" width="1" height="1" fill="#ececec"/>
<rect x="294" y="348" width="1" height="1" fill="#ececec"/>
<rect x="295" y="344" width="1" height="1" fill="#ececec"/>
<rect x="295" y="348" width="1" height="1" fill="#ececec"/>
<rect x="296" y="344" width="1" height="1" fill="#ececec"/>
<rect x="296" y="348" width="1" height="1" fill="#ececec"/>
<rect x="293" y="344" width="1" height="1" fill="#000"/>
<rect x="293" y="348" width="1" height="1" fill="#000"/>
<rect x="297" y="344" width="1" height="1" fill="#000"/>
<rect x="297" y="348" width="1" height="1" fill="#000"/>
<rect x="292" y="345" width="1" height="1" fill="#000"/>
<rect x="292" y="346" width="1" height="1" fill="#000"/>
<rect x="292" y="347" width="1" height="1" fill="#000"/>
<rect x="298" y="345" width="1" height="1" fill="#000"/>
<rect x="298" y="346" width="1" height="1" fill="#000"/>
<rect x="298" y="347" width="1" height="1" fill="#000"/>
<rect x="302" y="370" width="1" height="1" fill="#ececec"/>
<rect x="302" y="374" width="1" height="1" fill="#ececec"/>
<rect x="303" y="370" width="1" height="1" fill="#ececec"/>
<rect x="303" y="374" width="1" height="1" fill="#ececec"/>
<rect x="304" y="370" width="1" height="1" fill="#ececec"/>
<rect x="304" y="374" width="1" height="1" fill="#ececec"/>
<rect x="301" y="370" width="1" height="1" fill="#000"/>
<rect x="301" y="374" width="1" height="1" fill="#000"/>
<rect x="305" y="370" width="1" height="1" fill="#000"/>
<rect x="305" y="374" width="1" height="1" fill="#000"/>
<rect x="300" y="371" width="1" height="1" fill="#000"/>
<rect x="300" y="372" width="1" height="1" fill="#000"/>
<rect x="300" y="373" width="1" height="1" fill="#000"/>
<rect x="306" y="371" width="1" height="1" fill="#000"/>
<rect x="306" y="372" width="1" height="1" fill="#000"/>
<rect x="306" y="373" width="1" height="1" fill="#000"/>
<rect x="311" y="418" width="1" height="1" fill="#ececec"/>
<rect x="311" y="422" width="1" height="1" fill="#ececec"/>
<rect x="312" y="418" width="1" height="1" fill="#ececec"/>
<rect x="312" y="422" width="1" height="1" fill="#ececec"/>
<rect x="313" y="418" width="1" height="1" fill="#ececec"/>
<rect x="313" y="422" width="1" height="1" fill="#ececec"/>
<rect x="310" y="418" width="1" height="1" fill="#000"/>
<rect x="310" y="422" width="1" height="1" fill="#000"/>
<rect x="314" y="418" width="1" height="1" fill="#000"/>
<rect x="314" y="422" width="1" height="1" fill="#000"/>
<rect x="309" y="419" width="1" height="1" fill="#000"/>
<rect x="309" y="420" width="1" height="1" fill="#000"/>
<rect x="309" y="421" width="1" height="1" fill="#000"/>
<rect x="315" y="419" width="1" height="1" fill="#000"/>
<rect x="315" y="420" width="1" height="1" fill="#000"/>
<rect x="315" y="421" width="1" height="1" fill="#000"/>
<rect x="320" y="399" width="1" height="1" fill="#ececec"/>
<rect x="320" y="403" width="1" height="1" fill="#ececec"/>
<rect x="321" y="399" width="1" height="1" fill="#ececec"/>
<rect x="321" y="403" width="1" height="1" fill="#ececec"/>
<rect x="322" y="399" width="1" height="1" fill="#ececec"/>
<rect x="322" y="403" width="1" height="1" fill="#ececec"/>
<rect x="319" y="399" width="1" height="1" fill="#000"/>
<rect x="319" y="403" width="1" height="1" fill="#000"/>
<rect x="323" y="399" width="1" height="1" fill="#000"/>
<rect x="323" y="403" width="1" height="1" fill="#000"/>
<rect x="318" y="400" width="1" height="1" fill="#000"/>
<rect x="318" y="401" width="1" height="1" fill="#000"/>
<rect x="318" y="402" width="1" height="1" fill="#000"/>
<rect x="324" y="400" width="1" height="1" fill="#000"/>
<rect x="324" y="401" width="1" height="1" fill="#000"/>
<rect x="324" y="402" width="1" height="1" fill="#000"/>
<rect x="328" y="387" width="1" height="1" fill="#ececec"/>
<rect x="328" y="391" width="1" height="1" fill="#ececec"/>
<rect x="329" y="387" width="1" height="1" fill="#ececec"/>
<rect x="329" y="391" width="1" height="1" fill="#ececec"/>
<rect x="330" y="387" width="1" height="1" fill="#ececec"/>
<rect x="330" y="391" width="1" height="1" fill="#ececec"/>
<rect x="327" y="387" width="1" height="1" fill="#000"/>
<rect x="327" y="391" width="1" height="1" fill="#000"/>
<rect x="331" y="387" width="1" height="1" fill="#000"/>
<rect x="331" y="391" width="1" height="1" fill="#000"/>
<rect x="326" y="388" width="1" height="1" fill="#000"/>
<rect x="326" y="389" width="1" height="1" fill="#000"/>
<rect x="326" y="390" width="1" height="1" fill="#000"/>
<rect x="332" y="388" width="1" height="1" fill="#000"/>
<rect x="332" y="389" width="1" height="1" fill="#000"/>
<rect x="332" y="390" width="1" height="1" fill="#000"/>
<rect x="337" y="376" width="1" height="1" fill="#ececec"/>
<rect x="337" y="380" width="1" height="1" fill="#ececec"/>
<rect x="338" y="376" width="1" height="1" fill="#ececec"/>
<rect x="338" y="380" width="1" height="1" fill="#ececec"/>
<rect x="339" y="376" width="1" height="1" fill="#ececec"/>
<rect x="339" y="380" width="1" height="1" fill="#ececec"/>
<rect x="336" y="376" width="1" height="1" fill="#000"/>
<rect x="336" y="380" width="1" height="1" fill="#000"/>
<rect x="340" y="376" width="1" height="1" fill="#000"/>
<rect x="340" y="380" width="1" height="1" fill="#000"/>
<rect x="335" y="377" width="1" height="1" fill="#000"/>
<rect x="335" y="378" width="1" height="1" fill="#000"/>
<rect x="335" y="379" width="1" height="1" fill="#000"/>
<rect x="341" y="377" width="1" height="1" fill="#000"/>
<rect x="341" y="378" width="1" height="1" fill="#000"/>
<rect x="341" y="379" width="1" height="1" fill="#000"/>
<rect x="345" y="376" width="1" height="1" fill="#ececec"/>
<rect x="345" y="380" width="1" height="1" fill="#ececec"/>
<rect x="346" y="376" width="1" height="1" fill="#ececec"/>
<rect x="346" y="380" width="1" height="1" fill="#ececec"/>
<rect x="347" y="376" width="1" height="1" fill="#ececec"/>
<rect x="347" y="380" width="1" height="1" fill="#ececec"/>
<rect x="344" y="376" width="1" height="1" fill="#000"/>
<rect x="344" y="380" width="1" height="1" fill="#000"/>
<rect x="348" y="376" width="1" height="1" fill="#000"/>
<rect x="348" y="380" width="1" height="1" fill="#000"/>
<rect x="343" y="377" width="1" height="1" fill="#000"/>
<rect x="343" y="378" width="1" height="1" fill="#000"/>
<rect x="343" y="379" width="1" height="1" fill="#000"/>
<rect x="349" y="377" width="1" height="1" fill="#000"/>
<rect x="349" y="378" width="1" height="1" fill="#000"/>
<rect x="349" y="379" width="1" height="1" fill="#000"/>
<rect x="354" y="422" width="1" height="1" fill="#ececec"/>
<rect x="354" y="426" width="1" height="1" fill="#ececec"/>
<rect x="355" y="422" width="1" height="1" fill="#ececec"/>
<rect x="355" y="426" width="1" height="1" fill="#ececec"/>
<rect x="356" y="422" width="1" height="1" fill="#ececec"/>
<rect x="356" y="426" width="1" height="1" fill="#ececec"/>
<rect x="353" y="422" width="1" height="1" fill="#000"/>
<rect x="353" y="426" width="1" height="1" fill="#000"/>
<rect x="357" y="422" width="1" height="1" fill="#000"/>
<rect x="357" y="426" width="1" height="1" fill="#000"/>
<rect x="352" y="423" width="1" height="1" fill="#000"/>
<rect x="352" y="424" width="1" height="1" fill="#000"/>
<rect x="352" y="425" width="1" height="1" fill="#000"/>
<rect x="358" y="423" width="1" height="1" fill="#000"/>
<rect x="358" y="424" width="1" height="1" fill="#000"/>
<rect x="358" y="425" width="1" height="1" fill="#000"/>
<rect x="362" y="432" width="1" height="1" fill="#000"/>
<rect x="362" y="433" width="1" height="1" fill="#ececec"/>
<rect x="362" y="437" width="1" height="1" fill="#ececec"/>
<rect x="363" y="432" width="1" height="1" fill="#000"/>
<rect x="363" y="433" width="1" height="1" fill="#ececec"/>
<rect x="363" y="437" width="1" height="1" fill="#ececec"/>
<rect x="364" y="432" width="1" height="1" fill="#000"/>
<rect x="364" y="433" width="1" height="1" fill="#ececec"/>
<rect x="364" y="437" width="1" height="1" fill="#ececec"/>
<rect x="361" y="433" width="1" height="1" fill="#000"/>
<rect x="361" y="437" width="1" height="1" fill="#000"/>
<rect x="365" y="433" width="1" height="1" fill="#000"/>
<rect x="365" y="437" width="1" height="1" fill="#000"/>
<rect x="360" y="434" width="1" height="1" fill="#000"/>
<rect x="360" y="435" width="1" height="1" fill="#000"/>
<rect x="360" y="436" width="1" height="1" fill="#000"/>
<rect x="366" y="434" width="1" height="1" fill="#000"/>
<rect x="366" y="435" width="1" height="1" fill="#000"/>
<rect x="366" y="436" width="1" height="1" fill="#000"/>
<rect x="371" y="437" width="1" height="1" fill="#ececec"/>
<rect x="371" y="441" width="1" height="1" fill="#ececec"/>
<rect x="372" y="437" width="1" height="1" fill="#ececec"/>
<rect x="372" y="441" width="1" height="1" fill="#ececec"/>
<rect x="373" y="437" width="1" height="1" fill="#ececec"/>
<rect x="373" y="441" width="1" height="1" fill="#ececec"/>
<rect x="370" y="437" width="1" height="1" fill="#000"/>
<rect x="370" y="441" width="1" height="1" fill="#000"/>
<rect x="374" y="437" width="1" height="1" fill="#000"/>
<rect x="374" y="441" width="1" height="1" fill="#000"/>
<rect x="369" y="438" width="1" height="1" fill="#000"/>
<rect x="369" y="439" width="1" height="1" fill="#000"/>
<rect x="369" y="440" width="1" height="1" fill="#000"/>
<rect x="375" y="438" width="1" height="1" fill="#000"/>
<rect x="375" y="439" width="1" height="1" fill="#000"/>
<rect x="375" y="440" width="1" height="1" fill="#000"/>
<rect x="379" y="435" width="1" height="1" fill="#ececec"/>
<rect x="379" y="439" width="1" height="1" fill="#ececec"/>
<rect x="380" y="435" width="1" height="1" fill="#ececec"/>
<rect x="380" y="439" width="1" height="1" fill="#ececec"/>
<rect x="381" y="435" width="1" height="1" fill="#ececec"/>
<rect x="381" y="439" width="1" height="1" fill="#ececec"/>
<rect x="378" y="435" width="1" height="1" fill="#000"/>
<rect x="378" y="439" width="1" height="1" fill="#000"/>
<rect x="382" y="435" width="1" height="1" fill="#000"/>
<rect x="382" y="439" width="1" height="1" fill="#000"/>
<rect x="377" y="436" width="1" height="1" fill="#000"/>
<rect x="377" y="437" width="1" height="1" fill="#000"/>
<rect x="377" y="438" width="1" height="1" fill="#000"/>
<rect x="383" y="436" width="1" height="1" fill="#000"/>
<rect x="383" y="437" width="1" height="1" fill="#000"/>
<rect x="383" y="438" width="1" height="1" fill="#000"/>
<rect x="388" y="425" width="1" height="1" fill="#ececec"/>
<rect x="388" y="429" width="1" height="1" fill="#ececec"/>
<rect x="389" y="425" width="1" height="1" fill="#ececec"/>
<rect x="389" y="429" width="1" height="1" fill="#ececec"/>
<rect x="390" y="425" width="1" height="1" fill="#ececec"/>
<rect x="390" y="429" width="1" height="1" fill="#ececec"/>
<rect x="387" y="425" width="1" height="1" fill="#000"/>
<rect x="387" y="429" width="1" height="1" fill="#000"/>
<rect x="391" y="425" width="1" height="1" fill="#000"/>
<rect x="391" y="429" width="1" height="1" fill="#000"/>
<rect x="386" y="426" width="1" height="1" fill="#000"/>
<rect x="386" y="427" width="1" height="1" fill="#000"/>
<rect x="386" y="428" width="1" height="1" fill="#000"/>
<rect x="392" y="426" width="1" height="1" fill="#000"/>
<rect x="392" y="427" width="1" height="1" fill="#000"/>
<rect x="392" y="428" width="1" height="1" fill="#000"/>
<rect x="396" y="445" width="1" height="1" fill="#000"/>
<rect x="396" y="440" width="1" height="1" fill="#ececec"/>
<rect x="396" y="444" width="1" height="1" fill="#ececec"/>
<rect x="397" y="445" width="1" height="1" fill="#000"/>
<rect x="397" y="440" width="1" height="1" fill="#ececec"/>
<rect x="397" y="444" width="1" height="1" fill="#ececec"/>
<rect x="398" y="445" width="1" height="1" fill="#000"/>
<rect x="398" y="440" width="1" height="1" fill="#ececec"/>
<rect x="398" y="444" width="1" height="1" fill="#ececec"/>
<rect x="395" y="440" width="1" height="1" fill="#000"/>
<rect x="395" y="444" width="1" height="1" fill="#000"/>
<rect x="399" y="440" width="1" height="1" fill="#000"/>
<rect x="399" y="444" width="1" height="1" fill="#000"/>
<rect x="394" y="441" width="1" height="1" fill="#000"/>
<rect x="394" y="442" width="1" height="1" fill="#000"/>
<rect x="394" y="443" width="1" height="1" fill="#000"/>
<rect x="400" y="441" width="1" height="1" fill="#000"/>
<rect x="400" y="442" width="1" height="1" fill="#000"/>
<rect x="400" y="443" width="1" height="1" fill="#000"/>
<rect x="405" y="427" width="1" height="1" fill="#ececec"/>
<rect x="405" y="431" width="1" height="1" fill="#ececec"/>
<rect x="406" y="427" width="1" height="1" fill="#ececec"/>
<rect x="406" y="431" width="1" height="1" fill="#ececec"/>
<rect x="407" y="427" width="1" height="1" fill="#ececec"/>
<rect x="407" y="431" width="1" height="1" fill="#ececec"/>
<rect x="404" y="427" width="1" height="1" fill="#000"/>
<rect x="404" y="431" width="1" height="1" fill="#000"/>
<rect x="408" y="427" width="1" height="1" fill="#000"/>
<rect x="408" y="431" width="1" height="1" fill="#000"/>
<rect x="403" y="428" width="1" height="1" fill="#000"/>
<rect x="403" y="429" width="1" height="1" fill="#000"/>
<rect x="403" y="430" width="1" height="1" fill="#000"/>
<rect x="409" y="428" width="1" height="1" fill="#000"/>
<rect x="409" y="429" width="1" height="1" fill="#000"/>
<rect x="409" y="430" width="1" height="1" fill="#000"/>
<rect x="413" y="451" width="1" height="1" fill="#ececec"/>
<rect x="413" y="455" width="1" height="1" fill="#ececec"/>
<rect x="414" y="451" width="1" height="1" fill="#ececec"/>
<rect x="414" y="455" width="1" height="1" fill="#ececec"/>
<rect x="415" y="451" width="1" height="1" fill="#ececec"/>
<rect x="415" y="455" width="1" height="1" fill="#ececec"/>
<rect x="412" y="451" width="1" height="1" fill="#000"/>
<rect x="412" y="455" width="1" height="1" fill="#000"/>
<rect x="416" y="451" width="1" height="1" fill="#000"/>
<rect x="416" y="455" width="1" height="1" fill="#000"/>
<rect x="411" y="452" width="1" height="1" fill="#000"/>
<rect x="411" y="453" width="1" height="1" fill="#000"/>
<rect x="411" y="454" width="1" height="1" fill="#000"/>
<rect x="417" y="452" width="1" height="1" fill="#000"/>
<rect x="417" y="453" width="1" height="1" fill="#000"/>
<rect x="417" y="454" width="1" height="1" fill="#000"/>
<rect x="422" y="445" width="1" height="1" fill="#ececec"/>
<rect x="422" y="449" width="1" height="1" fill="#ececec"/>
<rect x="423" y="445" width="1" height="1" fill="#ececec"/>
<rect x="423" y="449" width="1" height="1" fill="#ececec"/>
<rect x="424" y="445" width="1" height="1" fill="#ececec"/>
<rect x="424" y="449" width="1" height="1" fill="#ececec"/>
<rect x="421" y="445" width="1" height="1" fill="#000"/>
<rect x="421" y="449" width="1" height="1" fill="#000"/>
<rect x="425" y="445" width="1" height="1" fill="#000"/>
<rect x="425" y="449" width="1" height="1" fill="#000"/>
<rect x="420" y="446" width="1" height="1" fill="#000"/>
<rect x="420" y="447" width="1" height="1" fill="#000"/>
<rect x="420" y="448" width="1" height="1" fill="#000"/>
<rect x="426" y="446" width="1" height="1" fill="#000"/>
<rect x="426" y="447" width="1" height="1" fill="#000"/>
<rect x="426" y="448" width="1" height="1" fill="#000"/>
<rect x="431" y="463" width="1" height="1" fill="#ececec"/>
<rect x="431" y="467" width="1" height="1" fill="#ececec"/>
<rect x="432" y="463" width="1" height="1" fill="#ececec"/>
<rect x="432" y="467" width="1" height="1" fill="#ececec"/>
<rect x="433" y="463" width="1" height="1" fill="#ececec"/>
<rect x="433" y="467" width="1" height="1" fill="#ececec"/>
<rect x="430" y="463" width="1" height="1" fill="#000"/>
<rect x="430" y="467" width="1" height="1" fill="#000"/>
<rect x="434" y="463" width="1" height="1" fill="#000"/>
<rect x="434" y="467" width="1" height="1" fill="#000"/>
<rect x="429" y="464" width="1" height="1" fill="#000"/>
<rect x="429" y="465" width="1" height="1" fill="#000"/>
<rect x="429" y="466" width="1" height="1" fill="#000"/>
<rect x="435" y="464" width="1" height="1" fill="#000"/>
<rect x="435" y="465" width="1" height="1" fill="#000"/>
<rect x="435" y="466" width="1" height="1" fill="#000"/>
<rect x="439" y="490" width="1" height="1" fill="#ececec"/>
<rect x="439" y="494" width="1" height="1" fill="#ececec"/>
<rect x="440" y="490" width="1" height="1" fill="#ececec"/>
<rect x="440" y="494" width="1" height="1" fill="#ececec"/>
<rect x="441" y="490" width="1" height="1" fill="#ececec"/>
<rect x="441" y="494" width="1" height="1" fill="#ececec"/>
<rect x="438" y="490" width="1" height="1" fill="#000"/>
<rect x="438" y="494" width="1" height="1" fill="#000"/>
<rect x="442" y="490" width="1" height="1" fill="#000"/>
<rect x="442" y="494" width="1" height="1" fill="#000"/>
<rect x="437" y="491" width="1" height="1" fill="#000"/>
<rect x="437" y="492" width="1" height="1" fill="#000"/>
<rect x="437" y="493" width="1" height="1" fill="#000"/>
<rect x="443" y="491" width="1" height="1" fill="#000"/>
<rect x="443" y="492" width="1" height="1" fill="#000"/>
<rect x="443" y="493" width="1" height="1" fill="#000"/>
<rect x="448" y="513" width="1" height="1" fill="#ececec"/>
<rect x="448" y="517" width="1" height="1" fill="#ececec"/>
<rect x="449" y="513" width="1" height="1" fill="#ececec"/>
<rect x="449" y="517" width="1" height="1" fill="#ececec"/>
<rect x="450" y="513" width="1" height="1" fill="#ececec"/>
<rect x="450" y="517" width="1" height="1" fill="#ececec"/>
<rect x="447" y="513" width="1" height="1" fill="#000"/>
<rect x="447" y="517" width="1" height="1" fill="#000"/>
<rect x="451" y="513" width="1" height="1" fill="#000"/>
<rect x="451" y="517" width="1" height="1" fill="#000"/>
<rect x="446" y="514" width="1" height="1" fill="#000"/>
<rect x="446" y="515" width="1" height="1" fill="#000"/>
<rect x="446" y="516" width="1" height="1" fill="#000"/>
<rect x="452" y="514" width="1" height="1" fill="#000"/>
<rect x="452" y="515" width="1" height="1" fill="#000"/>
<rect x="452" y="516" width="1" height="1" fill="#000"/>
<rect x="456" y="545" width="1" height="1" fill="#000"/>
<rect x="456" y="540" width="1" height="1" fill="#ececec"/>
<rect x="456" y="544" width="1" height="1" fill="#ececec"/>
<rect x="457" y="545" width="1" height="1" fill="#000"/>
<rect x="457" y="540" width="1" height="1" fill="#ececec"/>
<rect x="457" y="544" width="1" height="1" fill="#ececec"/>
<rect x="458" y="545" width="1" height="1" fill="#000"/>
<rect x="458" y="540" width="1" height="1" fill="#ececec"/>
<rect x="458" y="544" width="1" height="1" fill="#ececec"/>
<rect x="455" y="540" width="1" height="1" fill="#000"/>
<rect x="455" y="544" width="1" height="1" fill="#000"/>
<rect x="459" y="540" width="1" height="1" fill="#000"/>
<rect x="459" y="544" width="1" height="1" fill="#000"/>
<rect x="454" y="541" width="1" height="1" fill="#000"/>
<rect x="454" y="542" width="1" height="1" fill="#000"/>
<rect x="454" y="543" width="1" height="1" fill="#000"/>
<rect x="460" y="541" width="1" height="1" fill="#000"/>
<rect x="460" y="542" width="1" height="1" fill="#000"/>
<rect x="460" y="543" width="1" height="1" fill="#000"/>
<rect x="465" y="556" width="1" height="1" fill="#000"/>
<rect x="465" y="551" width="1" height="1" fill="#ececec"/>
<rect x="465" y="555" width="1" height="1" fill="#ececec"/>
<rect x="466" y="556" width="1" height="1" fill="#000"/>
<rect x="466" y="551" width="1" height="1" fill="#ececec"/>
<rect x="466" y="555" width="1" height="1" fill="#ececec"/>
<rect x="467" y="556" width="1" height="1" fill="#000"/>
<rect x="467" y="551" width="1" height="1" fill="#ececec"/>
<rect x="467" y="555" width="1" height="1" fill="#ececec"/>
<rect x="464" y="551" width="1" height="1" fill="#000"/>
<rect x="464" y="555" width="1" height="1" fill="#000"/>
<rect x="468" y="551" width="1" height="1" fill="#000"/>
<rect x="468" y="555" width="1" height="1" fill="#000"/>
<rect x="463" y="552" width="1" height="1" fill="#000"/>
<rect x="463" y="553" width="1" height="1" fill="#000"/>
<rect x="463" y="554" width="1" height="1" fill="#000"/>
<rect x="469" y="552" width="1" height="1" fill="#000"/>
<rect x="469" y="553" width="1" height="1" fill="#000"/>
<rect x="469" y="554" width="1" height="1" fill="#000"/>
<rect x="473" y="553" width="1" height="1" fill="#ececec"/>
<rect x="473" y="557" width="1" height="1" fill="#ececec"/>
<rect x="474" y="553" width="1" height="1" fill="#ececec"/>
<rect x="474" y="557" width="1" height="1" fill="#ececec"/>
<rect x="475" y="553" width="1" height="1" fill="#ececec"/>
<rect x="475" y="557" width="1" height="1" fill="#ececec"/>
<rect x="472" y="553" width="1" height="1" fill="#000"/>
<rect x="472" y="557" width="1" height="1" fill="#000"/>
<rect x="476" y="553" width="1" height="1" fill="#000"/>
<rect x="476" y="557" width="1" height="1" fill="#000"/>
<rect x="471" y="554" width="1" height="1" fill="#000"/>
<rect x="471" y="555" width="1" height="1" fill="#000"/>
<rect x="471" y="556" width="1" height="1" fill="#000"/>
<rect x="477" y="554" width="1" height="1" fill="#000"/>
<rect x="477" y="555" width="1" height="1" fill="#000"/>
<rect x="477" y="556" width="1" height="1" fill="#000"/>
<rect x="482" y="567" width="1" height="1" fill="#ececec"/>
<rect x="482" y="571" width="1" height="1" fill="#ececec"/>
<rect x="483" y="567" width="1" height="1" fill="#ececec"/>
<rect x="483" y="571" width="1" height="1" fill="#ececec"/>
<rect x="484" y="567" width="1" height="1" fill="#ececec"/>
<rect x="484" y="571" width="1" height="1" fill="#ececec"/>
<rect x="481" y="567" width="1" height="1" fill="#000"/>
<rect x="481" y="571" width="1" height="1" fill="#000"/>
<rect x="485" y="567" width="1" height="1" fill="#000"/>
<rect x="485" y="571" width="1" height="1" fill="#000"/>
<rect x="480" y="568" width="1" height="1" fill="#000"/>
<rect x="480" y="569" width="1" height="1" fill="#000"/>
<rect x="480" y="570" width="1" height="1" fill="#000"/>
<rect x="486" y="568" width="1" height="1" fill="#000"/>
<rect x="486" y="569" width="1" height="1" fill="#000"/>
<rect x="486" y="570" width="1" height="1" fill="#000"/>
<rect x="490" y="582" width="1" height="1" fill="#000"/>
<rect x="490" y="577" width="1" height="1" fill="#ececec"/>
<rect x="490" y="581" width="1" height="1" fill="#ececec"/>
<rect x="491" y="582" width="1" height="1" fill="#000"/>
<rect x="491" y="577" width="1" height="1" fill="#ececec"/>
<rect x="491" y="581" width="1" height="1" fill="#ececec"/>
<rect x="492" y="582" width="1" height="1" fill="#000"/>
<rect x="492" y="577" width="1" height="1" fill="#ececec"/>
<rect x="492" y="581" width="1" height="1" fill="#ececec"/>
<rect x="489" y="577" width="1" height="1" fill="#000"/>
<rect x="489" y="581" width="1" height="1" fill="#000"/>
<rect x="493" y="577" width="1" height="1" fill="#000"/>
<rect x="493" y="581" width="1" height="1" fill="#000"/>
<rect x="488" y="578" width="1" height="1" fill="#000"/>
<rect x="488" y="579" width="1" height="1" fill="#000"/>
<rect x="488" y="580" width="1" height="1" fill="#000"/>
<rect x="494" y="578" width="1" height="1" fill="#000"/>
<rect x="494" y="579" width="1" height="1" fill="#000"/>
<rect x="494" y="580" width="1" height="1" fill="#000"/>
<rect x="499" y="562" width="1" height="1" fill="#000"/>
<rect x="499" y="563" width="1" height="1" fill="#ececec"/>
<rect x="499" y="567" width="1" height="1" fill="#ececec"/>
<rect x="500" y="562" width="1" height="1" fill="#000"/>
<rect x="500" y="563" width="1" height="1" fill="#ececec"/>
<rect x="500" y="567" width="1" height="1" fill="#ececec"/>
<rect x="501" y="562" width="1" height="1" fill="#000"/>
<rect x="501" y="563" width="1" height="1" fill="#ececec"/>
<rect x="501" y="567" width="1" height="1" fill="#ececec"/>
<rect x="498" y="563" width="1" height="1" fill="#000"/>
<rect x="498" y="567" width="1" height="1" fill="#000"/>
<rect x="502" y="563" width="1" height="1" fill="#000"/>
<rect x="502" y="567" width="1" height="1" fill="#000"/>
<rect x="497" y="564" width="1" height="1" fill="#000"/>
<rect x="497" y="565" width="1" height="1" fill="#000"/>
<rect x="497" y="566" width="1" height="1" fill="#000"/>
<rect x="503" y="564" width="1" height="1" fill="#000"/>
<rect x="503" y="565" width="1" height="1" fill="#000"/>
<rect x="503" y="566" width="1" height="1" fill="#000"/>
<rect x="507" y="585" width="1" height="1" fill="#ececec"/>
<rect x="507" y="589" width="1" height="1" fill="#ececec"/>
<rect x="508" y="585" width="1" height="1" fill="#ececec"/>
<rect x="508" y="589" width="1" height="1" fill="#ececec"/>
<rect x="509" y="585" width="1" height="1" fill="#ececec"/>
<rect x="509" y="589" width="1" height="1" fill="#ececec"/>
<rect x="506" y="585" width="1" height="1" fill="#000"/>
<rect x="506" y="589" width="1" height="1" fill="#000"/>
<rect x="510" y="585" width="1" height="1" fill="#000"/>
<rect x="510" y="589" width="1" height="1" fill="#000"/>
<rect x="505" y="586" width="1" height="1" fill="#000"/>
<rect x="505" y="587" width="1" height="1" fill="#000"/>
<rect x="505" y="588" width="1" height="1" fill="#000"/>
<rect x="511" y="586" width="1" height="1" fill="#000"/>
<rect x="511" y="587" width="1" height="1" fill="#000"/>
<rect x="511" y="588" width="1" height="1" fill="#000"/>
<rect x="516" y="503" width="1" height="1" fill="#ececec"/>
<rect x="516" y="507" width="1" height="1" fill="#ececec"/>
<rect x="517" y="503" width="1" height="1" fill="#ececec"/>
<rect x="517" y="507" width="1" height="1" fill="#ececec"/>
<rect x="518" y="503" width="1" height="1" fill="#ececec"/>
<rect x="518" y="507" width="1" height="1" fill="#ececec"/>
<rect x="515" y="503" width="1" height="1" fill="#000"/>
<rect x="515" y="507" width="1" height="1" fill="#000"/>
<rect x="519" y="503" width="1" height="1" fill="#000"/>
<rect x="519" y="507" width="1" height="1" fill="#000"/>
<rect x="514" y="504" width="1" height="1" fill="#000"/>
<rect x="514" y="505" width="1" height="1" fill="#000"/>
<rect x="514" y="506" width="1" height="1" fill="#000"/>
<rect x="520" y="504" width="1" height="1" fill="#000"/>
<rect x="520" y="505" width="1" height="1" fill="#000"/>
<rect x="520" y="506" width="1" height="1" fill="#000"/>
<rect x="524" y="515" width="1" height="1" fill="#000"/>
<rect x="524" y="510" width="1" height="1" fill="#ececec"/>
<rect x="524" y="514" width="1" height="1" fill="#ececec"/>
<rect x="525" y="515" width="1" height="1" fill="#000"/>
<rect x="525" y="510" width="1" height="1" fill="#ececec"/>
<rect x="525" y="514" width="1" height="1" fill="#ececec"/>
<rect x="526" y="515" width="1" height="1" fill="#000"/>
<rect x="526" y="510" width="1" height="1" fill="#ececec"/>
<rect x="526" y="514" width="1" height="1" fill="#ececec"/>
<rect x="523" y="510" width="1" height="1" fill="#000"/>
<rect x="523" y="514" width="1" height="1" fill="#000"/>
<rect x="527" y="510" width="1" height="1" fill="#000"/>
<rect x="527" y="514" width="1" height="1" fill="#000"/>
<rect x="522" y="511" width="1" height="1" fill="#000"/>
<rect x="522" y="512" width="1" height="1" fill="#000"/>
<rect x="522" y="513" width="1" height="1" fill="#000"/>
<rect x="528" y="511" width="1" height="1" fill="#000"/>
<rect x="528" y="512" width="1" height="1" fill="#000"/>
<rect x="528" y="513" width="1" height="1" fill="#000"/>
<rect x="533" y="498" width="1" height="1" fill="#ececec"/>
<rect x="533" y="502" width="1" height="1" fill="#ececec"/>
<rect x="534" y="498" width="1" height="1" fill="#ececec"/>
<rect x="534" y="502" width="1" height="1" fill="#ececec"/>
<rect x="535" y="498" width="1" height="1" fill="#ececec"/>
<rect x="535" y="502" width="1" height="1" fill="#ececec"/>
<rect x="532" y="498" width="1" height="1" fill="#000"/>
<rect x="532" y="502" width="1" height="1" fill="#000"/>
<rect x="536" y="498" width="1" height="1" fill="#000"/>
<rect x="536" y="502" width="1" height="1" fill="#000"/>
<rect x="531" y="499" width="1" height="1" fill="#000"/>
<rect x="531" y="500" width="1" height="1" fill="#000"/>
<rect x="531" y="501" width="1" height="1" fill="#000"/>
<rect x="537" y="499" width="1" height="1" fill="#000"/>
<rect x="537" y="500" width="1" height="1" fill="#000"/>
<rect x="537" y="501" width="1" height="1" fill="#000"/>
<rect x="542" y="484" width="1" height="1" fill="#ececec"/>
<rect x="542" y="488" width="1" height="1" fill="#ececec"/>
<rect x="543" y="484" width="1" height="1" fill="#ececec"/>
<rect x="543" y="488" width="1" height="1" fill="#ececec"/>
<rect x="544" y="484" width="1" height="1" fill="#ececec"/>
<rect x="544" y="488" width="1" height="1" fill="#ececec"/>
<rect x="541" y="484" width="1" height="1" fill="#000"/>
<rect x="541" y="488" width="1" height="1" fill="#000"/>
<rect x="545" y="484" width="1" height="1" fill="#000"/>
<rect x="545" y="488" width="1" height="1" fill="#000"/>
<rect x="540" y="485" width="1" height="1" fill="#000"/>
<rect x="540" y="486" width="1" height="1" fill="#000"/>
<rect x="540" y="487" width="1" height="1" fill="#000"/>
<rect x="546" y="485" width="1" height="1" fill="#000"/>
<rect x="546" y="486" width="1" height="1" fill="#000"/>
<rect x="546" y="487" width="1" height="1" fill="#000"/>
<rect x="550" y="467" width="1" height="1" fill="#ececec"/>
<rect x="550" y="471" width="1" height="1" fill="#ececec"/>
<rect x="551" y="467" width="1" height="1" fill="#ececec"/>
<rect x="551" y="471" width="1" height="1" fill="#ececec"/>
<rect x="552" y="467" width="1" height="1" fill="#ececec"/>
<rect x="552" y="471" width="1" height="1" fill="#ececec"/>
<rect x="549" y="467" width="1" height="1" fill="#000"/>
<rect x="549" y="471" width="1" height="1" fill="#000"/>
<rect x="553" y="467" width="1" height="1" fill="#000"/>
<rect x="553" y="471" width="1" height="1" fill="#000"/>
<rect x="548" y="468" width="1" height="1" fill="#000"/>
<rect x="548" y="469" width="1" height="1" fill="#000"/>
<rect x="548" y="470" width="1" height="1" fill="#000"/>
<rect x="554" y="468" width="1" height="1" fill="#000"/>
<rect x="554" y="469" width="1" height="1" fill="#000"/>
<rect x="554" y="470" width="1" height="1" fill="#000"/>
<rect x="559" y="477" width="1" height="1" fill="#000"/>
<rect x="559" y="472" width="1" height="1" fill="#ececec"/>
<rect x="559" y="476" width="1" height="1" fill="#ececec"/>
<rect x="560" y="477" width="1" height="1" fill="#000"/>
<rect x="560" y="472" width="1" height="1" fill="#ececec"/>
<rect x="560" y="476" width="1" height="1" fill="#ececec"/>
<rect x="561" y="477" width="1" height="1" fill="#000"/>
<rect x="561" y="472" width="1" height="1" fill="#ececec"/>
<rect x="561" y="476" width="1" height="1" fill="#ececec"/>
<rect x="558" y="472" width="1" height="1" fill="#000"/>
<rect x="558" y="476" width="1" height="1" fill="#000"/>
<rect x="562" y="472" width="1" height="1" fill="#000"/>
<rect x="562" y="476" width="1" height="1" fill="#000"/>
<rect x="557" y="473" width="1" height="1" fill="#000"/>
<rect x="557" y="474" width="1" height="1" fill="#000"/>
<rect x="557" y="475" width="1" height="1" fill="#000"/>
<rect x="563" y="473" width="1" height="1" fill="#000"/>
<rect x="563" y="474" width="1" height="1" fill="#000"/>
<rect x="563" y="475" width="1" height="1" fill="#000"/>
<rect x="567" y="472" width="1" height="1" fill="#ececec"/>
<rect x="567" y="476" width="1" height="1" fill="#ececec"/>
<rect x="568" y="472" width="1" height="1" fill="#ececec"/>
<rect x="568" y="476" width="1" height="1" fill="#ececec"/>
<rect x="569" y="472" width="1" height="1" fill="#ececec"/>
<rect x="569" y="476" width="1" height="1" fill="#ececec"/>
<rect x="566" y="472" width="1" height="1" fill="#000"/>
<rect x="566" y="476" width="1" height="1" fill="#000"/>
<rect x="570" y="472" width="1" height="1" fill="#000"/>
<rect x="570" y="476" width="1" height="1" fill="#000"/>
<rect x="565" y="473" width="1" height="1" fill="#000"/>
<rect x="565" y="474" width="1" height="1" fill="#000"/>
<rect x="565" y="475" width="1" height="1" fill="#000"/>
<rect x="571" y="473" width="1" height="1" fill="#000"/>
<rect x="571" y="474" width="1" height="1" fill="#000"/>
<rect x="571" y="475" width="1" height="1" fill="#000"/>
<rect x="576" y="461" width="1" height="1" fill="#ececec"/>
<rect x="576" y="465" width="1" height="1" fill="#ececec"/>
<rect x="577" y="461" width="1" height="1" fill="#ececec"/>
<rect x="577" y="465" width="1" height="1" fill="#ececec"/>
<rect x="578" y="461" width="1" height="1" fill="#ececec"/>
<rect x="578" y="465" width="1" height="1" fill="#ececec"/>
<rect x="575" y="461" width="1" height="1" fill="#000"/>
<rect x="575" y="465" width="1" height="1" fill="#000"/>
<rect x="579" y="461" width="1" height="1" fill="#000"/>
<rect x="579" y="465" width="1" height="1" fill="#000"/>
<rect x="574" y="462" width="1" height="1" fill="#000"/>
<rect x="574" y="463" width="1" height="1" fill="#000"/>
<rect x="574" y="464" width="1" height="1" fill="#000"/>
<rect x="580" y="462" width="1" height="1" fill="#000"/>
<rect x="580" y="463" width="1" height="1" fill="#000"/>
<rect x="580" y="464" width="1" height="1" fill="#000"/>
<rect x="584" y="473" width="1" height="1" fill="#ececec"/>
<rect x="584" y="477" width="1" height="1" fill="#ececec"/>
<rect x="585" y="473" width="1" height="1" fill="#ececec"/>
<rect x="585" y="477" width="1" height="1" fill="#ececec"/>
<rect x="586" y="473" width="1" height="1" fill="#ececec"/>
<rect x="586" y="477" width="1" height="1" fill="#ececec"/>
<rect x="583" y="473" width="1" height="1" fill="#000"/>
<rect x="583" y="477" width="1" height="1" fill="#000"/>
<rect x="587" y="473" width="1" height="1" fill="#000"/>
<rect x="587" y="477" width="1" height="1" fill="#000"/>
<rect x="582" y="474" width="1" height="1" fill="#000"/>
<rect x="582" y="475" width="1" height="1" fill="#000"/>
<rect x="582" y="476" width="1" height="1" fill="#000"/>
<rect x="588" y="474" width="1" height="1" fill="#000"/>
<rect x="588" y="475" width="1" height="1" fill="#000"/>
<rect x="588" y="476" width="1" height="1" fill="#000"/>
<rect x="593" y="452" width="1" height="1" fill="#000"/>
<rect x="593" y="453" width="1" height="1" fill="#ececec"/>
<rect x="593" y="457" width="1" height="1" fill="#ececec"/>
<rect x="594" y="452" width="1" height="1" fill="#000"/>
<rect x="594" y="453" width="1" height="1" fill="#ececec"/>
<rect x="594" y="457" width="1" height="1" fill="#ececec"/>
<rect x="595" y="452" width="1" height="1" fill="#000"/>
<rect x="595" y="453" width="1" height="1" fill="#ececec"/>
<rect x="595" y="457" width="1" height="1" fill="#ececec"/>
<rect x="592" y="453" width="1" height="1" fill="#000"/>
<rect x="592" y="457" width="1" height="1" fill="#000"/>
<rect x="596" y="453" width="1" height="1" fill="#000"/>
<rect x="596" y="457" width="1" height="1" fill="#000"/>
<rect x="591" y="454" width="1" height="1" fill="#000"/>
<rect x="591" y="455" width="1" height="1" fill="#000"/>
<rect x="591" y="456" width="1" height="1" fill="#000"/>
<rect x="597" y="454" width="1" height="1" fill="#000"/>
<rect x="597" y="455" width="1" height="1" fill="#000"/>
<rect x="597" y="456" width="1" height="1" fill="#000"/>
<rect x="601" y="460" width="1" height="1" fill="#ececec"/>
<rect x="601" y="464" width="1" height="1" fill="#ececec"/>
<rect x="602" y="460" width="1" height="1" fill="#ececec"/>
<rect x="602" y="464" width="1" height="1" fill="#ececec"/>
<rect x="603" y="460" width="1" height="1" fill="#ececec"/>
<rect x="603" y="464" width="1" height="1" fill="#ececec"/>
<rect x="600" y="460" width="1" height="1" fill="#000"/>
<rect x="600" y="464" width="1" height="1" fill="#000"/>
<rect x="604" y="460" width="1" height="1" fill="#000"/>
<rect x="604" y="464" width="1" height="1" fill="#000"/>
<rect x="599" y="461" width="1" height="1" fill="#000"/>
<rect x="599" y="462" width="1" height="1" fill="#000"/>
<rect x="599" y="463" width="1" height="1" fill="#000"/>
<rect x="605" y="461" width="1" height="1" fill="#000"/>
<rect x="605" y="462" width="1" height="1" fill="#000"/>
<rect x="605" y="463" width="1" height="1" fill="#000"/>
<path d="M611 441h1v1h-1zM612 441h1v1h-1zM613 440h1v1h-1zM614 440h1v1h-1zM615 440h1v1h-1zM616 439h1v1h-1zM617 439h1v1h-1zM618 439h1v1h-1zM619 438h1v1h-1zM620 438h1v1h-1zM621 437h1v1h-1zM622 437h1v1h-1zM623 437h1v1h-1zM624 436h1v1h-1zM625 436h1v1h-1zM626 436h1v1h-1zM627 435h1v1h-1zM628 435h1v1h-1zM629 435h1v1h-1zM630 434h1v1h-1zM631 434h1v1h-1zM632 434h1v1h-1zM633 433h1v1h-1zM634 433h1v1h-1zM635 433h1v1h-1zM636 432h1v1h-1zM637 432h1v1h-1zM638 431h1v1h-1zM639 431h1v1h-1zM640 431h1v1h-1zM641 430h1v1h-1zM642 430h1v1h-1zM643 430h1v1h-1zM644 429h1v1h-1zM645 429h1v1h-1zM611 459h1v1h-1zM612 458h1v1h-1zM613 458h1v1h-1zM614 457h1v1h-1zM615 457h1v1h-1zM616 456h1v1h-1zM617 456h1v1h-1zM618 456h1v1h-1zM619 455h1v1h-1zM620 455h1v1h-1zM621 455h1v1h-1zM622 454h1v1h-1zM623 454h1v1h-1zM624 454h1v1h-1zM625 453h1v1h-1zM626 453h1v1h-1zM627 453h1v1h-1zM628 452h1v1h-1zM629 452h1v1h-1zM630 452h1v1h-1zM631 452h1v1h-1zM632 451h1v1h-1zM633 451h1v1h-1zM634 451h1v1h-1zM635 450h1v1h-1zM636 450h1v1h-1zM637 450h1v1h-1zM638 449h1v1h-1zM639 449h1v1h-1zM640 449h1v1h-1zM641 448h1v1h-1zM642 448h1v1h-1zM643 448h1v1h-1zM644 447h1v1h-1zM645 447h1v1h-1zM611 476h1v1h-1zM612 476h1v1h-1zM613 475h1v1h-1zM614 475h1v1h-1zM615 475h1v1h-1zM616 475h1v1h-1zM617 474h1v1h-1zM618 474h1v1h-1zM619 474h1v1h-1zM620 473h1v1h-1zM621 473h1v1h-1zM622 473h1v1h-1zM623 472h1v1h-1zM624 472h1v1h-1zM625 472h1v1h-1zM626 472h1v1h-1zM627 471h1v1h-1zM628 471h1v1h-1zM629 471h1v1h-1zM630 470h1v1h-1zM631 470h1v1h-1zM632 470h1v1h-1zM633 470h1v1h-1zM634 469h1v1h-1zM635 469h1v1h-1zM636 469h1v1h-1zM637 468h1v1h-1zM638 468h1v1h-1zM639 468h1v1h-1zM640 467h1v1h-1zM641 467h1v1h-1zM642 467h1v1h-1zM643 467h1v1h-1zM644 466h1v1h-1zM645 466h1v1h-1z" fill="#000"/>
<path d="M99.5 632 V76" stroke="#d3d3d3" stroke-width="1" stroke-dasharray="2 2" fill="none"/>
<path d="M184.5 632 V76" stroke="#d3d3d3" stroke-width="1" stroke-dasharray="2 2" fill="none"/>
<path d="M269.5 632 V76" stroke="#d3d3d3" stroke-width="1" stroke-dasharray="2 2" fill="none"/>
<path d="M355.5 632 V76" stroke="#d3d3d3" stroke-width="1" stroke-dasharray="2 2" fill="none"/>
<path d="M440.5 632 V76" stroke="#d3d3d3" stroke-width="1" stroke-dasharray="2 2" fill="none"/>
<path d="M525.5 632 V76" stroke="#d3d3d3" stroke-width="1" stroke-dasharray="2 2" fill="none"/>
<path d="M611.5 632 V76" stroke="#d3d3d3" stroke-width="1" stroke-dasharray="2 2" fill="none"/>
<path d="M76 137.5 H677" stroke="#d3d3d3" stroke-width="1" stroke-dasharray="2 2" fill="none"/>
<path d="M76 262.5 H677" stroke="#d3d3d3" stroke-width="1" stroke-dasharray="2 2" fill="none"/>
<path d="M76 387.5 H677" stroke="#d3d3d3" stroke-width="1" stroke-dasharray="2 2" fill="none"/>
<path d="M76 512.5 H677" stroke="#d3d3d3" stroke-width="1" stroke-dasharray="2 2" fill="none"/>
<path d="M99.5 632 V641" stroke="#000" stroke-width="1"/>
<path d="M184.5 632 V641" stroke="#000" stroke-width="1"/>
<path d="M269.5 632 V641" stroke="#000" stroke-width="1"/>
<path d="M355.5 632 V641" stroke="#000" stroke-width="1"/>
<path d="M440.5 632 V641" stroke="#000" stroke-width="1"/>
<path d="M525.5 632 V641" stroke="#000" stroke-width="1"/>
<path d="M611.5 632 V641" stroke="#000" stroke-width="1"/>
<path d="M67 137.5 H76" stroke="#000" stroke-width="1"/>
<path d="M67 262.5 H76" stroke="#000" stroke-width="1"/>
<path d="M67 387.5 H76" stroke="#000" stroke-width="1"/>
<path d="M67 512.5 H76" stroke="#000" stroke-width="1"/>
</g>
<g>
<text x="275.25" y="16" textLength="202.5" lengthAdjust="spacingAndGlyphs" font-size="16">Daily Chart signalsetups.com</text>
<text x="38.2" y="35" textLength="186.8" lengthAdjust="spacingAndGlyphs" font-size="16">Consumer Services - Misc.</text>
<text x="38" y="54" text-anchor="start" font-size="16" font-weight="normal">NASDAQ</text>
<text x="595.2" y="35" textLength="119" lengthAdjust="spacingAndGlyphs" font-size="16">OptimizeRx Corp</text>
<text x="376.5" y="65" text-anchor="middle" font-size="19.2" font-weight="bold">OPRX</text>
<text x="57" y="145" text-anchor="end" font-size="16" font-weight="normal">16</text>
<text x="57" y="270" text-anchor="end" font-size="16" font-weight="normal">14</text>
<text x="57" y="395" text-anchor="end" font-size="16" font-weight="normal">12</text>
<text x="57" y="520" text-anchor="end" font-size="16" font-weight="normal">10</text>
<text x="98.3" y="666" text-anchor="middle" font-size="16" font-weight="normal">-60</text>
<text x="183.3" y="666" text-anchor="middle" font-size="16" font-weight="normal">-50</text>
<text x="268.3" y="666" text-anchor="middle" font-size="16" font-weight="normal">-40</text>
<text x="354.3" y="666" text-anchor="middle" font-size="16" font-weight="normal">-30</text>
<text x="439.3" y="666" text-anchor="middle" font-size="16" font-weight="normal">-20</text>
<text x="524.3" y="666" text-anchor="middle" font-size="16" font-weight="normal">-10</text>
<text x="610.6" y="666" text-anchor="middle" font-size="16" font-weight="normal">0</text>
<text x="37.6" y="705" text-anchor="start" font-size="16" font-weight="normal">1</text>
<text x="50.4" y="705" text-anchor="start" font-size="16" font-weight="normal">2</text>
<text x="71.5" y="705" text-anchor="start" font-size="16" font-weight="normal">f</text>
<text x="79.3" y="705" text-anchor="start" font-size="16" font-weight="normal">2</text>
<text x="92.5" y="705" text-anchor="start" font-size="16" font-weight="normal">2</text>
<text x="114.6" y="705" text-anchor="start" font-size="16" font-weight="normal">0.29</text>
<text x="149.6" y="705" text-anchor="start" font-size="16" font-weight="normal">0.92</text>
<text x="184.0" y="705" text-anchor="start" font-size="16" font-weight="normal">0.76</text>
<text x="226.8" y="705" text-anchor="start" font-size="16" font-weight="normal">150</text>
<text x="256.6" y="705" text-anchor="start" font-size="16" font-weight="normal">1</text>
<text x="270.9" y="705" text-anchor="start" font-size="16" font-weight="normal">0.99</text>
<text x="713.7" y="705" text-anchor="end" font-size="16" font-weight="normal">2024-05-10</text>
</g>
</svg>
</body></html>
